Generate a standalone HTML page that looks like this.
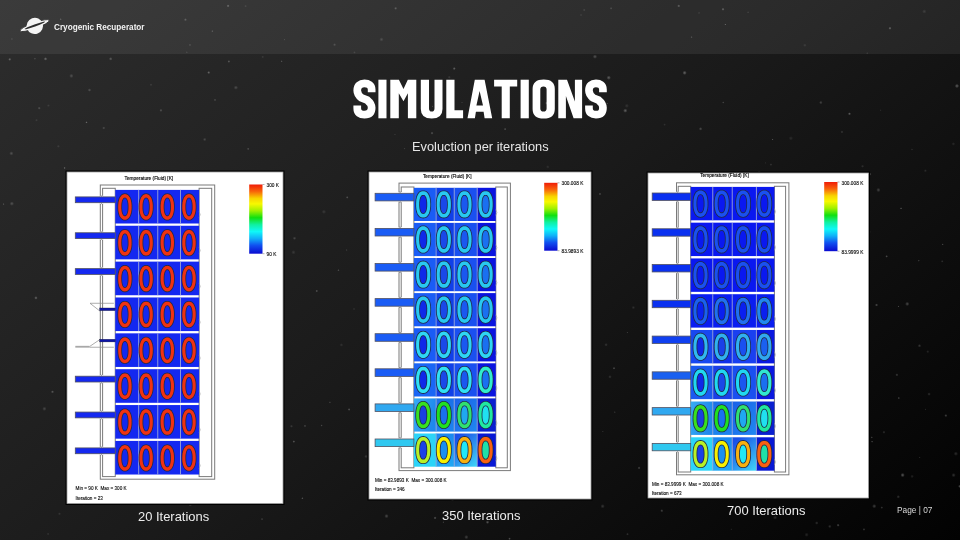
<!DOCTYPE html>
<html><head><meta charset="utf-8"><style>
html,body{margin:0;padding:0;}
body{width:960px;height:540px;overflow:hidden;position:relative;font-family:"Liberation Sans", sans-serif;
background:linear-gradient(141deg,#2d2d2d 0%,#1a1a1a 50%,#020202 100%);}
.hdr{position:absolute;left:0;top:0;width:960px;height:54px;background:rgba(255,255,255,0.07);}
.t{position:absolute;white-space:pre;line-height:1;color:#ececec;will-change:transform;}
</style></head><body>
<svg width="960" height="540" style="position:absolute;left:0;top:0"><defs><radialGradient id="st"><stop offset="0" stop-color="#fff" stop-opacity="1"/><stop offset="0.45" stop-color="#fff" stop-opacity="0.55"/><stop offset="1" stop-color="#fff" stop-opacity="0"/></radialGradient></defs><circle cx="434.28" cy="302.28" r="1.6" fill="url(#st)" opacity="0.21"/><circle cx="820.84" cy="102.55" r="1.8" fill="url(#st)" opacity="0.21"/><circle cx="589.4" cy="100.53" r="1.6" fill="url(#st)" opacity="0.17"/><circle cx="87.04" cy="437.21" r="2.2" fill="url(#st)" opacity="0.25"/><circle cx="571.62" cy="213.93" r="1.6" fill="url(#st)" opacity="0.26"/><circle cx="590.94" cy="85.05" r="1.0" fill="url(#st)" opacity="0.30"/><circle cx="60.64" cy="19.25" r="1.2" fill="url(#st)" opacity="0.24"/><circle cx="746.98" cy="176.2" r="1.8" fill="url(#st)" opacity="0.30"/><circle cx="498.36" cy="345.76" r="1.6" fill="url(#st)" opacity="0.10"/><circle cx="81.59" cy="353.59" r="1.6" fill="url(#st)" opacity="0.34"/><circle cx="955.86" cy="453.72" r="2.2" fill="url(#st)" opacity="0.16"/><circle cx="727.67" cy="276.96" r="1.0" fill="url(#st)" opacity="0.12"/><circle cx="735.64" cy="216.22" r="1.4" fill="url(#st)" opacity="0.19"/><circle cx="919.72" cy="457.55" r="1.0" fill="url(#st)" opacity="0.15"/><circle cx="889.96" cy="28.25" r="1.6" fill="url(#st)" opacity="0.34"/><circle cx="381.53" cy="39.44" r="2.2" fill="url(#st)" opacity="0.15"/><circle cx="647.91" cy="181.92" r="1.4" fill="url(#st)" opacity="0.18"/><circle cx="925.51" cy="409.34" r="1.0" fill="url(#st)" opacity="0.13"/><circle cx="678.74" cy="5.92" r="1.6" fill="url(#st)" opacity="0.29"/><circle cx="170.57" cy="302.02" r="1.6" fill="url(#st)" opacity="0.22"/><circle cx="945.87" cy="415.54" r="1.6" fill="url(#st)" opacity="0.25"/><circle cx="111.85" cy="227.21" r="1.2" fill="url(#st)" opacity="0.10"/><circle cx="829.76" cy="526.42" r="1.8" fill="url(#st)" opacity="0.17"/><circle cx="849.47" cy="113.78" r="1.6" fill="url(#st)" opacity="0.34"/><circle cx="577.94" cy="311.56" r="1.0" fill="url(#st)" opacity="0.34"/><circle cx="204.71" cy="139.47" r="1.8" fill="url(#st)" opacity="0.18"/><circle cx="284.47" cy="39.64" r="1.0" fill="url(#st)" opacity="0.15"/><circle cx="611.12" cy="8.37" r="1.4" fill="url(#st)" opacity="0.19"/><circle cx="435.08" cy="517.93" r="1.6" fill="url(#st)" opacity="0.30"/><circle cx="130.31" cy="208.49" r="2.2" fill="url(#st)" opacity="0.14"/><circle cx="872.09" cy="441.61" r="1.2" fill="url(#st)" opacity="0.27"/><circle cx="152.14" cy="339.65" r="1.8" fill="url(#st)" opacity="0.15"/><circle cx="912.13" cy="476.38" r="1.8" fill="url(#st)" opacity="0.12"/><circle cx="45.51" cy="58.89" r="1.8" fill="url(#st)" opacity="0.33"/><circle cx="228.87" cy="380.47" r="1.4" fill="url(#st)" opacity="0.20"/><circle cx="868.63" cy="265.14" r="1.8" fill="url(#st)" opacity="0.14"/><circle cx="691.54" cy="37.14" r="1.2" fill="url(#st)" opacity="0.22"/><circle cx="627.37" cy="332.57" r="1.0" fill="url(#st)" opacity="0.17"/><circle cx="880.67" cy="110.15" r="1.0" fill="url(#st)" opacity="0.12"/><circle cx="394.97" cy="134.49" r="1.0" fill="url(#st)" opacity="0.14"/><circle cx="354.03" cy="308.97" r="1.2" fill="url(#st)" opacity="0.12"/><circle cx="132.87" cy="243.19" r="1.4" fill="url(#st)" opacity="0.26"/><circle cx="663.57" cy="315.6" r="1.2" fill="url(#st)" opacity="0.24"/><circle cx="886.64" cy="256.39" r="1.4" fill="url(#st)" opacity="0.27"/><circle cx="924.26" cy="11.48" r="2.2" fill="url(#st)" opacity="0.12"/><circle cx="64.58" cy="167.97" r="1.2" fill="url(#st)" opacity="0.34"/><circle cx="72.25" cy="294.89" r="2.2" fill="url(#st)" opacity="0.11"/><circle cx="898.8" cy="398.06" r="1.2" fill="url(#st)" opacity="0.29"/><circle cx="878.4" cy="189.99" r="2.2" fill="url(#st)" opacity="0.21"/><circle cx="74.56" cy="462.94" r="1.0" fill="url(#st)" opacity="0.31"/><circle cx="549.9" cy="337.48" r="1.6" fill="url(#st)" opacity="0.19"/><circle cx="11.95" cy="39.01" r="1.0" fill="url(#st)" opacity="0.25"/><circle cx="953.59" cy="475.09" r="2.2" fill="url(#st)" opacity="0.18"/><circle cx="896.88" cy="374.84" r="1.6" fill="url(#st)" opacity="0.21"/><circle cx="804.84" cy="45.24" r="1.8" fill="url(#st)" opacity="0.11"/><circle cx="577.23" cy="259.72" r="1.2" fill="url(#st)" opacity="0.33"/><circle cx="108.37" cy="421.17" r="2.2" fill="url(#st)" opacity="0.32"/><circle cx="245.6" cy="6.11" r="1.4" fill="url(#st)" opacity="0.13"/><circle cx="587.29" cy="279.93" r="1.4" fill="url(#st)" opacity="0.26"/><circle cx="424.26" cy="481.53" r="1.4" fill="url(#st)" opacity="0.20"/><circle cx="240.58" cy="342.45" r="1.2" fill="url(#st)" opacity="0.31"/><circle cx="369.04" cy="314.88" r="1.4" fill="url(#st)" opacity="0.15"/><circle cx="129.17" cy="189.4" r="1.0" fill="url(#st)" opacity="0.27"/><circle cx="912" cy="149.47" r="1.2" fill="url(#st)" opacity="0.13"/><circle cx="452.5" cy="499.9" r="1.6" fill="url(#st)" opacity="0.19"/><circle cx="499.18" cy="362.96" r="2.2" fill="url(#st)" opacity="0.30"/><circle cx="942.76" cy="244.34" r="1.0" fill="url(#st)" opacity="0.30"/><circle cx="267" cy="328.08" r="2.2" fill="url(#st)" opacity="0.27"/><circle cx="547.76" cy="166.88" r="1.8" fill="url(#st)" opacity="0.10"/><circle cx="130.45" cy="245.61" r="1.0" fill="url(#st)" opacity="0.28"/><circle cx="255.76" cy="420.8" r="1.0" fill="url(#st)" opacity="0.34"/><circle cx="110.69" cy="58.87" r="1.8" fill="url(#st)" opacity="0.26"/><circle cx="775.09" cy="517.57" r="2.2" fill="url(#st)" opacity="0.15"/><circle cx="790.88" cy="138.26" r="2.2" fill="url(#st)" opacity="0.10"/><circle cx="453.31" cy="385.65" r="1.2" fill="url(#st)" opacity="0.15"/><circle cx="747.44" cy="291.43" r="1.8" fill="url(#st)" opacity="0.22"/><circle cx="956.94" cy="85.96" r="2.2" fill="url(#st)" opacity="0.32"/><circle cx="83.72" cy="503.61" r="2.2" fill="url(#st)" opacity="0.19"/><circle cx="432.48" cy="106.31" r="1.0" fill="url(#st)" opacity="0.19"/><circle cx="546.06" cy="474.83" r="1.4" fill="url(#st)" opacity="0.21"/><circle cx="625.27" cy="110.64" r="2.2" fill="url(#st)" opacity="0.31"/><circle cx="766.37" cy="499.08" r="1.0" fill="url(#st)" opacity="0.15"/><circle cx="863.98" cy="529.47" r="1.4" fill="url(#st)" opacity="0.23"/><circle cx="759.16" cy="173.01" r="2.2" fill="url(#st)" opacity="0.31"/><circle cx="334.57" cy="44.7" r="1.6" fill="url(#st)" opacity="0.18"/><circle cx="404.56" cy="148.64" r="1.0" fill="url(#st)" opacity="0.15"/><circle cx="832.85" cy="231.62" r="1.0" fill="url(#st)" opacity="0.14"/><circle cx="321.6" cy="425.47" r="1.2" fill="url(#st)" opacity="0.21"/><circle cx="959.83" cy="486.31" r="1.8" fill="url(#st)" opacity="0.30"/><circle cx="661.8" cy="510.7" r="1.6" fill="url(#st)" opacity="0.24"/><circle cx="661.5" cy="409.23" r="1.6" fill="url(#st)" opacity="0.23"/><circle cx="278.56" cy="393.58" r="2.2" fill="url(#st)" opacity="0.14"/><circle cx="493.65" cy="489.89" r="1.4" fill="url(#st)" opacity="0.17"/><circle cx="365.97" cy="456.44" r="1.8" fill="url(#st)" opacity="0.15"/><circle cx="816.74" cy="522.96" r="1.8" fill="url(#st)" opacity="0.17"/><circle cx="477.74" cy="221.99" r="1.0" fill="url(#st)" opacity="0.22"/><circle cx="581.02" cy="14.99" r="1.0" fill="url(#st)" opacity="0.22"/><circle cx="384.56" cy="432.58" r="1.8" fill="url(#st)" opacity="0.13"/><circle cx="89.49" cy="90.06" r="1.8" fill="url(#st)" opacity="0.21"/><circle cx="883.95" cy="432.21" r="1.6" fill="url(#st)" opacity="0.16"/><circle cx="454.24" cy="68.56" r="1.6" fill="url(#st)" opacity="0.32"/><circle cx="898.26" cy="496.81" r="1.8" fill="url(#st)" opacity="0.18"/><circle cx="183.79" cy="333.66" r="1.4" fill="url(#st)" opacity="0.13"/><circle cx="748.12" cy="12.3" r="1.2" fill="url(#st)" opacity="0.14"/><circle cx="11.36" cy="153.4" r="2.2" fill="url(#st)" opacity="0.19"/><circle cx="594.98" cy="56.64" r="2.2" fill="url(#st)" opacity="0.24"/><circle cx="817.84" cy="336.7" r="2.2" fill="url(#st)" opacity="0.15"/><circle cx="509.14" cy="235.86" r="1.6" fill="url(#st)" opacity="0.25"/><circle cx="792.17" cy="332.53" r="1.8" fill="url(#st)" opacity="0.15"/><circle cx="606.06" cy="344.77" r="1.8" fill="url(#st)" opacity="0.15"/><circle cx="521.22" cy="316.79" r="1.2" fill="url(#st)" opacity="0.16"/><circle cx="711.14" cy="437.67" r="1.2" fill="url(#st)" opacity="0.18"/><circle cx="302.39" cy="498.29" r="1.2" fill="url(#st)" opacity="0.29"/><circle cx="186.76" cy="52.31" r="1.2" fill="url(#st)" opacity="0.13"/><circle cx="84.62" cy="209.47" r="1.6" fill="url(#st)" opacity="0.30"/><circle cx="404.77" cy="426.57" r="1.2" fill="url(#st)" opacity="0.15"/><circle cx="602.87" cy="431.38" r="1.0" fill="url(#st)" opacity="0.15"/><circle cx="655.09" cy="492.14" r="1.4" fill="url(#st)" opacity="0.13"/><circle cx="485.45" cy="409.4" r="1.8" fill="url(#st)" opacity="0.34"/><circle cx="799.63" cy="433.54" r="1.6" fill="url(#st)" opacity="0.13"/><circle cx="35.94" cy="297.9" r="1.8" fill="url(#st)" opacity="0.32"/><circle cx="462.03" cy="102.37" r="1.0" fill="url(#st)" opacity="0.15"/><circle cx="806.61" cy="534.76" r="2.2" fill="url(#st)" opacity="0.12"/><circle cx="59.47" cy="513.81" r="1.6" fill="url(#st)" opacity="0.12"/><circle cx="92.85" cy="211.08" r="1.6" fill="url(#st)" opacity="0.22"/><circle cx="412.88" cy="324.5" r="1.0" fill="url(#st)" opacity="0.25"/><circle cx="39.24" cy="108.15" r="1.6" fill="url(#st)" opacity="0.21"/><circle cx="709.76" cy="218.86" r="1.2" fill="url(#st)" opacity="0.25"/><circle cx="91.01" cy="427.87" r="1.4" fill="url(#st)" opacity="0.31"/><circle cx="769.64" cy="380.52" r="2.2" fill="url(#st)" opacity="0.33"/><circle cx="546.9" cy="103.11" r="1.8" fill="url(#st)" opacity="0.34"/><circle cx="772.63" cy="139.46" r="1.0" fill="url(#st)" opacity="0.28"/><circle cx="746.87" cy="439.91" r="1.6" fill="url(#st)" opacity="0.13"/><circle cx="316.71" cy="290.99" r="1.4" fill="url(#st)" opacity="0.28"/><circle cx="734.62" cy="219.1" r="2.2" fill="url(#st)" opacity="0.14"/><circle cx="765.44" cy="162.91" r="1.0" fill="url(#st)" opacity="0.10"/><circle cx="341.41" cy="344.9" r="1.8" fill="url(#st)" opacity="0.11"/><circle cx="262.06" cy="519.17" r="1.4" fill="url(#st)" opacity="0.18"/><circle cx="633.37" cy="307.57" r="1.8" fill="url(#st)" opacity="0.12"/><circle cx="494.11" cy="268.7" r="1.2" fill="url(#st)" opacity="0.27"/><circle cx="731.27" cy="529.25" r="1.0" fill="url(#st)" opacity="0.13"/><circle cx="103.74" cy="128" r="1.6" fill="url(#st)" opacity="0.20"/><circle cx="48.44" cy="105.54" r="1.6" fill="url(#st)" opacity="0.10"/><circle cx="248.22" cy="148.87" r="1.4" fill="url(#st)" opacity="0.23"/><circle cx="487.51" cy="522.25" r="1.8" fill="url(#st)" opacity="0.30"/><circle cx="95.65" cy="239.95" r="2.2" fill="url(#st)" opacity="0.12"/><circle cx="573.64" cy="409.99" r="1.0" fill="url(#st)" opacity="0.19"/><circle cx="901.06" cy="208.39" r="1.2" fill="url(#st)" opacity="0.31"/><circle cx="520.28" cy="322.14" r="1.6" fill="url(#st)" opacity="0.33"/><circle cx="403.88" cy="284.45" r="1.8" fill="url(#st)" opacity="0.17"/><circle cx="509.19" cy="260.95" r="1.4" fill="url(#st)" opacity="0.23"/><circle cx="272.19" cy="386.96" r="1.4" fill="url(#st)" opacity="0.11"/><circle cx="741.59" cy="316.34" r="2.2" fill="url(#st)" opacity="0.14"/><circle cx="724.46" cy="210.58" r="1.4" fill="url(#st)" opacity="0.28"/><circle cx="48.15" cy="533.94" r="1.4" fill="url(#st)" opacity="0.12"/><circle cx="869.33" cy="231.94" r="1.6" fill="url(#st)" opacity="0.16"/><circle cx="725.28" cy="24.53" r="1.0" fill="url(#st)" opacity="0.32"/><circle cx="693.83" cy="252.91" r="1.2" fill="url(#st)" opacity="0.24"/><circle cx="110.49" cy="337.09" r="1.6" fill="url(#st)" opacity="0.13"/><circle cx="826.68" cy="192.62" r="1.2" fill="url(#st)" opacity="0.13"/><circle cx="425.15" cy="360.66" r="1.6" fill="url(#st)" opacity="0.24"/><circle cx="614.01" cy="368.28" r="1.4" fill="url(#st)" opacity="0.29"/><circle cx="509.54" cy="538.72" r="1.4" fill="url(#st)" opacity="0.28"/><circle cx="228.87" cy="61.49" r="1.4" fill="url(#st)" opacity="0.29"/><circle cx="599.98" cy="193.96" r="1.4" fill="url(#st)" opacity="0.25"/><circle cx="696.07" cy="377.48" r="1.2" fill="url(#st)" opacity="0.25"/><circle cx="723.22" cy="102.5" r="1.2" fill="url(#st)" opacity="0.22"/><circle cx="626.82" cy="105.83" r="2.2" fill="url(#st)" opacity="0.11"/><circle cx="58.36" cy="146.31" r="1.6" fill="url(#st)" opacity="0.11"/><circle cx="36.52" cy="120.18" r="1.4" fill="url(#st)" opacity="0.12"/><circle cx="82.98" cy="365.19" r="1.8" fill="url(#st)" opacity="0.16"/><circle cx="942.23" cy="261.37" r="1.4" fill="url(#st)" opacity="0.15"/><circle cx="329.95" cy="402.21" r="1.0" fill="url(#st)" opacity="0.29"/><circle cx="429.42" cy="443.9" r="1.2" fill="url(#st)" opacity="0.21"/><circle cx="717.43" cy="210.67" r="1.2" fill="url(#st)" opacity="0.19"/><circle cx="627.51" cy="534.16" r="1.4" fill="url(#st)" opacity="0.17"/><circle cx="728.63" cy="446.12" r="1.2" fill="url(#st)" opacity="0.20"/><circle cx="354.49" cy="52.39" r="1.4" fill="url(#st)" opacity="0.12"/><circle cx="79.7" cy="304.68" r="1.6" fill="url(#st)" opacity="0.30"/><circle cx="444.97" cy="444.69" r="1.0" fill="url(#st)" opacity="0.12"/><circle cx="204.73" cy="357.53" r="1.0" fill="url(#st)" opacity="0.27"/><circle cx="474.97" cy="412.64" r="1.4" fill="url(#st)" opacity="0.17"/><circle cx="137.2" cy="193.21" r="2.2" fill="url(#st)" opacity="0.18"/><circle cx="870.03" cy="174.12" r="1.6" fill="url(#st)" opacity="0.24"/><circle cx="881.81" cy="507.57" r="1.4" fill="url(#st)" opacity="0.21"/><circle cx="770.93" cy="164.57" r="1.4" fill="url(#st)" opacity="0.15"/><circle cx="929.06" cy="394.09" r="1.8" fill="url(#st)" opacity="0.16"/><circle cx="347.23" cy="197.4" r="1.4" fill="url(#st)" opacity="0.26"/><circle cx="561.42" cy="429.91" r="2.2" fill="url(#st)" opacity="0.24"/><circle cx="765.2" cy="291.9" r="1.8" fill="url(#st)" opacity="0.24"/><circle cx="169.53" cy="409.83" r="1.4" fill="url(#st)" opacity="0.29"/><circle cx="212.39" cy="31.17" r="1.2" fill="url(#st)" opacity="0.24"/><circle cx="927.76" cy="351.65" r="1.6" fill="url(#st)" opacity="0.12"/><circle cx="524.94" cy="425.55" r="1.0" fill="url(#st)" opacity="0.18"/><circle cx="262.7" cy="56.92" r="1.4" fill="url(#st)" opacity="0.12"/><circle cx="608.76" cy="77.69" r="2.2" fill="url(#st)" opacity="0.30"/><circle cx="405.17" cy="384.59" r="1.6" fill="url(#st)" opacity="0.28"/><circle cx="500.69" cy="412.94" r="1.6" fill="url(#st)" opacity="0.18"/><circle cx="774.98" cy="179.8" r="1.2" fill="url(#st)" opacity="0.22"/><circle cx="515.85" cy="389.3" r="2.2" fill="url(#st)" opacity="0.25"/><circle cx="44.39" cy="408.81" r="2.2" fill="url(#st)" opacity="0.18"/><circle cx="3.71" cy="204.11" r="1.0" fill="url(#st)" opacity="0.31"/><circle cx="919.48" cy="345.75" r="1.8" fill="url(#st)" opacity="0.19"/><circle cx="9.74" cy="59.36" r="1.6" fill="url(#st)" opacity="0.32"/><circle cx="235.89" cy="87.62" r="2.2" fill="url(#st)" opacity="0.19"/><circle cx="160.95" cy="110.36" r="1.6" fill="url(#st)" opacity="0.23"/><circle cx="263.08" cy="478.49" r="1.6" fill="url(#st)" opacity="0.17"/><circle cx="110.22" cy="349.91" r="1.2" fill="url(#st)" opacity="0.32"/><circle cx="723.01" cy="9.27" r="1.6" fill="url(#st)" opacity="0.32"/><circle cx="34.92" cy="58.68" r="1.2" fill="url(#st)" opacity="0.19"/><circle cx="564.82" cy="324.01" r="1.6" fill="url(#st)" opacity="0.24"/><circle cx="215" cy="99.89" r="1.4" fill="url(#st)" opacity="0.20"/><circle cx="874.25" cy="506.17" r="2.2" fill="url(#st)" opacity="0.23"/><circle cx="784.44" cy="258.93" r="1.4" fill="url(#st)" opacity="0.22"/><circle cx="386.51" cy="516.08" r="2.2" fill="url(#st)" opacity="0.23"/><circle cx="918.74" cy="260.61" r="1.2" fill="url(#st)" opacity="0.20"/><circle cx="208.72" cy="72.52" r="1.6" fill="url(#st)" opacity="0.33"/><circle cx="762.92" cy="418.05" r="1.0" fill="url(#st)" opacity="0.26"/><circle cx="228.11" cy="5.87" r="1.6" fill="url(#st)" opacity="0.32"/><circle cx="432.02" cy="133.14" r="1.6" fill="url(#st)" opacity="0.25"/><circle cx="151" cy="84.73" r="1.4" fill="url(#st)" opacity="0.13"/><circle cx="871.78" cy="437.4" r="1.2" fill="url(#st)" opacity="0.25"/><circle cx="953.39" cy="143.91" r="1.8" fill="url(#st)" opacity="0.11"/><circle cx="549" cy="96.28" r="1.2" fill="url(#st)" opacity="0.30"/><circle cx="812.34" cy="443.93" r="1.0" fill="url(#st)" opacity="0.18"/><circle cx="590.27" cy="285.09" r="1.6" fill="url(#st)" opacity="0.27"/><circle cx="79.54" cy="404.24" r="1.8" fill="url(#st)" opacity="0.31"/><circle cx="291.45" cy="426.23" r="1.6" fill="url(#st)" opacity="0.15"/><circle cx="654.94" cy="421.97" r="1.6" fill="url(#st)" opacity="0.15"/><circle cx="521.64" cy="283.86" r="1.2" fill="url(#st)" opacity="0.33"/><circle cx="925.38" cy="170.69" r="1.6" fill="url(#st)" opacity="0.12"/><circle cx="293.47" cy="252.3" r="2.2" fill="url(#st)" opacity="0.12"/><circle cx="71.37" cy="75.9" r="2.2" fill="url(#st)" opacity="0.19"/><circle cx="443.29" cy="522.13" r="1.0" fill="url(#st)" opacity="0.26"/><circle cx="11.85" cy="203.65" r="2.2" fill="url(#st)" opacity="0.21"/><circle cx="281.73" cy="61.2" r="1.0" fill="url(#st)" opacity="0.31"/><circle cx="810.73" cy="388.38" r="1.8" fill="url(#st)" opacity="0.14"/><circle cx="602.66" cy="506.22" r="2.2" fill="url(#st)" opacity="0.17"/><circle cx="323.89" cy="211.79" r="2.2" fill="url(#st)" opacity="0.12"/><circle cx="181.11" cy="203.34" r="1.0" fill="url(#st)" opacity="0.18"/><circle cx="907.24" cy="303.92" r="2.2" fill="url(#st)" opacity="0.25"/><circle cx="428.98" cy="206.52" r="1.0" fill="url(#st)" opacity="0.13"/><circle cx="90.62" cy="365.96" r="2.2" fill="url(#st)" opacity="0.14"/><circle cx="185.44" cy="19.7" r="1.6" fill="url(#st)" opacity="0.24"/><circle cx="86.5" cy="122.35" r="1.2" fill="url(#st)" opacity="0.34"/><circle cx="416.46" cy="416.45" r="1.4" fill="url(#st)" opacity="0.32"/><circle cx="409.93" cy="276.25" r="2.2" fill="url(#st)" opacity="0.15"/><circle cx="142.05" cy="373.31" r="1.6" fill="url(#st)" opacity="0.18"/><circle cx="395.65" cy="8.33" r="1.6" fill="url(#st)" opacity="0.25"/><circle cx="304.99" cy="425.93" r="1.2" fill="url(#st)" opacity="0.26"/><circle cx="584.26" cy="10.01" r="1.4" fill="url(#st)" opacity="0.15"/><circle cx="294.51" cy="238.27" r="1.8" fill="url(#st)" opacity="0.19"/><circle cx="488.99" cy="425.82" r="1.0" fill="url(#st)" opacity="0.25"/><circle cx="152.01" cy="413.92" r="1.4" fill="url(#st)" opacity="0.23"/><circle cx="338.46" cy="270.22" r="1.2" fill="url(#st)" opacity="0.24"/><circle cx="190.24" cy="504.09" r="2.2" fill="url(#st)" opacity="0.27"/><circle cx="898.47" cy="306.38" r="1.0" fill="url(#st)" opacity="0.25"/><circle cx="189.98" cy="44.95" r="1.2" fill="url(#st)" opacity="0.21"/><circle cx="400.8" cy="180.13" r="1.0" fill="url(#st)" opacity="0.32"/><circle cx="346.75" cy="250.04" r="1.0" fill="url(#st)" opacity="0.21"/><circle cx="700.59" cy="128.86" r="1.8" fill="url(#st)" opacity="0.23"/><circle cx="538.3" cy="302.59" r="1.4" fill="url(#st)" opacity="0.14"/><circle cx="715.89" cy="484.36" r="1.4" fill="url(#st)" opacity="0.24"/><circle cx="117.75" cy="445.31" r="1.4" fill="url(#st)" opacity="0.26"/><circle cx="349.09" cy="409.5" r="1.4" fill="url(#st)" opacity="0.30"/><circle cx="178.15" cy="295.84" r="1.0" fill="url(#st)" opacity="0.21"/><circle cx="387.25" cy="422.67" r="2.2" fill="url(#st)" opacity="0.13"/><circle cx="725.86" cy="457.57" r="1.6" fill="url(#st)" opacity="0.25"/><circle cx="614.71" cy="412.2" r="1.2" fill="url(#st)" opacity="0.15"/><circle cx="449.3" cy="77.21" r="1.6" fill="url(#st)" opacity="0.13"/><circle cx="389.5" cy="181.57" r="1.2" fill="url(#st)" opacity="0.16"/><circle cx="545.31" cy="179.33" r="2.2" fill="url(#st)" opacity="0.29"/><circle cx="692.76" cy="425.25" r="1.6" fill="url(#st)" opacity="0.33"/><circle cx="576.09" cy="253.75" r="1.6" fill="url(#st)" opacity="0.32"/><circle cx="876.53" cy="304.98" r="1.6" fill="url(#st)" opacity="0.28"/><circle cx="466.36" cy="537.09" r="2.2" fill="url(#st)" opacity="0.20"/><circle cx="416.6" cy="305.62" r="1.8" fill="url(#st)" opacity="0.18"/><circle cx="499.85" cy="226.99" r="1.0" fill="url(#st)" opacity="0.18"/><circle cx="52.49" cy="391.81" r="1.6" fill="url(#st)" opacity="0.28"/><circle cx="573.62" cy="406.02" r="1.4" fill="url(#st)" opacity="0.31"/><circle cx="841.97" cy="131.94" r="1.6" fill="url(#st)" opacity="0.16"/><circle cx="838.13" cy="525.18" r="1.6" fill="url(#st)" opacity="0.27"/><circle cx="505.17" cy="129.14" r="1.4" fill="url(#st)" opacity="0.26"/><circle cx="902.63" cy="475.07" r="2.2" fill="url(#st)" opacity="0.33"/><circle cx="639.08" cy="467.91" r="1.6" fill="url(#st)" opacity="0.24"/><circle cx="157.56" cy="350.73" r="1.6" fill="url(#st)" opacity="0.24"/><circle cx="867.28" cy="53.22" r="1.2" fill="url(#st)" opacity="0.13"/><circle cx="516.09" cy="513.53" r="1.0" fill="url(#st)" opacity="0.17"/><circle cx="699.05" cy="12.92" r="1.2" fill="url(#st)" opacity="0.12"/><circle cx="859.32" cy="440.34" r="1.6" fill="url(#st)" opacity="0.13"/><circle cx="664.59" cy="124.63" r="1.4" fill="url(#st)" opacity="0.11"/><circle cx="862.57" cy="166.24" r="1.6" fill="url(#st)" opacity="0.13"/><circle cx="745.6" cy="419.33" r="1.2" fill="url(#st)" opacity="0.15"/><circle cx="824.65" cy="373.96" r="1.0" fill="url(#st)" opacity="0.15"/><circle cx="804.4" cy="191.24" r="1.6" fill="url(#st)" opacity="0.10"/><circle cx="609.96" cy="376.88" r="1.8" fill="url(#st)" opacity="0.15"/><circle cx="607.1" cy="103.41" r="1.0" fill="url(#st)" opacity="0.26"/><circle cx="293.84" cy="441.55" r="1.4" fill="url(#st)" opacity="0.31"/><circle cx="684.62" cy="72.84" r="2.2" fill="url(#st)" opacity="0.33"/><circle cx="747.77" cy="224.19" r="1.2" fill="url(#st)" opacity="0.15"/></svg>
<div class="hdr"></div>
<svg width="60" height="54" style="position:absolute;left:0;top:0"><g transform="translate(34.65 25.6) rotate(-19.9)"><ellipse cx="0" cy="0" rx="15.5" ry="3.0" fill="#f4f4f4" stroke="#383838" stroke-width="0.9"/><circle cx="0.1" cy="0.35" r="8.2" fill="#f4f4f4"/><ellipse cx="0.2" cy="-0.1" rx="10.8" ry="1.05" fill="#2c2c2c"/></g></svg>
<div class="t" style="left:54.2px;top:24.3px;font-size:8.2px;font-weight:bold;color:#f2f2f2;">Cryogenic Recuperator</div>
<svg width="960" height="540" style="position:absolute;left:0;top:0" fill="#fff"><path d="M371.65 92.2 V89.45 C371.65 84.95 368.45 83.45 364.45 83.45 C360.25 83.45 357.25 85.45 357.25 90.45 C357.25 94.45 359.05 95.95 361.55 97.95 L367.35 100.15 C369.85 102.15 371.65 103.65 371.65 107.85 C371.65 113.15 368.45 114.65 364.45 114.65 C360.25 114.65 357.25 112.85 357.25 108.15 V105.4" fill="none" stroke="#fff" stroke-width="7.7"/><rect x="378.4" y="79.7" width="8.1" height="38.6"/><path d="M390.3 118.3 V79.7 H398.9 L403.5 88.9 L407.8 79.7 H416.3 V118.3 H407.9 V93.2 L403.5 101.2 L398.8 93.2 V118.3 Z"/><path d="M420.8 79.7 H429 V108.5 Q429 111.6 431.7 111.6 Q434.5 111.6 434.5 108.5 V79.7 H442.5 V109 Q442.5 118.6 431.7 118.6 Q420.8 118.6 420.8 109 Z"/><path d="M446.3 79.7 H454.5 V110.2 H463.1 V118.3 H446.3 Z"/><path fill-rule="evenodd" d="M467.5 118.3 L474.8 79.7 H484.6 L492.2 118.3 H484.6 L483.6 111.8 H475.9 L474.9 118.3 Z M479.6 91 L483 105.4 H476.4 Z"/><path d="M494.1 79.7 H517.2 V86.5 H509.8 V118.3 H501.7 V86.5 H494.1 Z"/><rect x="520.6" y="79.7" width="8.2" height="38.6"/><path fill-rule="evenodd" d="M532.6 89 Q532.6 79.4 543.7 79.4 Q554.8 79.4 554.8 89 V109 Q554.8 118.6 543.7 118.6 Q532.6 118.6 532.6 109 Z M540.3 89.5 Q540.3 86.4 543.45 86.4 Q546.6 86.4 546.6 89.5 V108.4 Q546.6 111.5 543.45 111.5 Q540.3 111.5 540.3 108.4 Z"/><path d="M558.3 118.3 V79.7 H567 L574.9 101.6 V79.7 H582.1 V118.3 H573.6 L565.9 96 V118.3 Z"/><path d="M602.95 92.2 V89.45 C602.95 84.95 599.95 83.45 595.95 83.45 C591.75 83.45 588.95 85.45 588.95 90.45 C588.95 94.45 590.75 95.95 593.25 97.95 L598.65 100.15 C601.15 102.15 602.95 103.65 602.95 107.85 C602.95 113.15 599.95 114.65 595.95 114.65 C591.75 114.65 588.95 112.85 588.95 108.15 V105.4" fill="none" stroke="#fff" stroke-width="7.7"/></svg>
<div class="t" style="left:412.4px;top:141.3px;font-size:12.8px;color:#e6e6e6;">Evoluction per iterations</div>
<svg width="960" height="540" style="position:absolute;left:0;top:0;font-family:'Liberation Sans', sans-serif;will-change:transform">
<defs><path id="e1a" d="M7.50 0.00 L7.46 1.86 L7.33 3.47 L7.12 4.97 L6.82 6.37 L6.45 7.66 L6.00 8.85 L5.47 9.92 L4.88 10.87 L4.23 11.69 L3.51 12.37 L2.74 12.90 L1.91 13.29 L1.02 13.52 L0.00 13.60 L-1.02 13.52 L-1.91 13.29 L-2.74 12.90 L-3.51 12.37 L-4.23 11.69 L-4.88 10.87 L-5.47 9.92 L-6.00 8.85 L-6.45 7.66 L-6.82 6.37 L-7.12 4.97 L-7.33 3.47 L-7.46 1.86 L-7.50 0.00 L-7.46 -1.86 L-7.33 -3.47 L-7.12 -4.97 L-6.82 -6.37 L-6.45 -7.66 L-6.00 -8.85 L-5.47 -9.92 L-4.88 -10.87 L-4.23 -11.69 L-3.51 -12.37 L-2.74 -12.90 L-1.91 -13.29 L-1.02 -13.52 L-0.00 -13.60 L1.02 -13.52 L1.91 -13.29 L2.74 -12.90 L3.51 -12.37 L4.23 -11.69 L4.88 -10.87 L5.47 -9.92 L6.00 -8.85 L6.45 -7.66 L6.82 -6.37 L7.12 -4.97 L7.33 -3.47 L7.46 -1.86 Z"/><path id="e1b" d="M6.70 0.00 L6.66 1.75 L6.55 3.27 L6.36 4.68 L6.09 5.99 L5.76 7.21 L5.36 8.33 L4.89 9.34 L4.36 10.23 L3.78 11.00 L3.14 11.64 L2.45 12.15 L1.71 12.51 L0.92 12.73 L0.00 12.80 L-0.92 12.73 L-1.71 12.51 L-2.45 12.15 L-3.14 11.64 L-3.78 11.00 L-4.36 10.23 L-4.89 9.34 L-5.36 8.33 L-5.76 7.21 L-6.09 5.99 L-6.36 4.68 L-6.55 3.27 L-6.66 1.75 L-6.70 0.00 L-6.66 -1.75 L-6.55 -3.27 L-6.36 -4.68 L-6.09 -5.99 L-5.76 -7.21 L-5.36 -8.33 L-4.89 -9.34 L-4.36 -10.23 L-3.78 -11.00 L-3.14 -11.64 L-2.45 -12.15 L-1.71 -12.51 L-0.92 -12.73 L-0.00 -12.80 L0.92 -12.73 L1.71 -12.51 L2.45 -12.15 L3.14 -11.64 L3.78 -11.00 L4.36 -10.23 L4.89 -9.34 L5.36 -8.33 L5.76 -7.21 L6.09 -5.99 L6.36 -4.68 L6.55 -3.27 L6.66 -1.75 Z"/><path id="e1c" d="M3.60 0.00 L3.58 1.27 L3.52 2.37 L3.42 3.40 L3.27 4.35 L3.09 5.24 L2.88 6.05 L2.63 6.79 L2.34 7.44 L2.03 7.99 L1.69 8.46 L1.31 8.82 L0.92 9.09 L0.49 9.25 L0.00 9.30 L-0.49 9.25 L-0.92 9.09 L-1.31 8.82 L-1.69 8.46 L-2.03 7.99 L-2.34 7.44 L-2.63 6.79 L-2.88 6.05 L-3.09 5.24 L-3.27 4.35 L-3.42 3.40 L-3.52 2.37 L-3.58 1.27 L-3.60 0.00 L-3.58 -1.27 L-3.52 -2.37 L-3.42 -3.40 L-3.27 -4.35 L-3.09 -5.24 L-2.88 -6.05 L-2.63 -6.79 L-2.34 -7.44 L-2.03 -7.99 L-1.69 -8.46 L-1.31 -8.82 L-0.92 -9.09 L-0.49 -9.25 L-0.00 -9.30 L0.49 -9.25 L0.92 -9.09 L1.31 -8.82 L1.69 -8.46 L2.03 -7.99 L2.34 -7.44 L2.63 -6.79 L2.88 -6.05 L3.09 -5.24 L3.27 -4.35 L3.42 -3.40 L3.52 -2.37 L3.58 -1.27 Z"/><path id="e1d" d="M2.80 0.00 L2.78 1.16 L2.74 2.17 L2.66 3.10 L2.55 3.98 L2.41 4.79 L2.24 5.53 L2.04 6.20 L1.82 6.80 L1.58 7.31 L1.31 7.73 L1.02 8.07 L0.71 8.31 L0.38 8.45 L0.00 8.50 L-0.38 8.45 L-0.71 8.31 L-1.02 8.07 L-1.31 7.73 L-1.58 7.31 L-1.82 6.80 L-2.04 6.20 L-2.24 5.53 L-2.41 4.79 L-2.55 3.98 L-2.66 3.10 L-2.74 2.17 L-2.78 1.16 L-2.80 0.00 L-2.78 -1.16 L-2.74 -2.17 L-2.66 -3.10 L-2.55 -3.98 L-2.41 -4.79 L-2.24 -5.53 L-2.04 -6.20 L-1.82 -6.80 L-1.58 -7.31 L-1.31 -7.73 L-1.02 -8.07 L-0.71 -8.31 L-0.38 -8.45 L-0.00 -8.50 L0.38 -8.45 L0.71 -8.31 L1.02 -8.07 L1.31 -7.73 L1.58 -7.31 L1.82 -6.80 L2.04 -6.20 L2.24 -5.53 L2.41 -4.79 L2.55 -3.98 L2.66 -3.10 L2.74 -2.17 L2.78 -1.16 Z"/></defs>
<rect x="65.5" y="170.5" width="219" height="334.5" fill="#000"/>
<rect x="67" y="172" width="216" height="331.5" fill="#fff" stroke="#a0a0a0" stroke-width="0.8"/>
<text x="124.6" y="179.6" font-size="4.75" fill="#000" stroke="#000" stroke-width="0.12">Temperature (Fluid) [K]</text>
<rect x="100.3" y="185" width="114.4" height="294.2" fill="#fff" stroke="#7a7a7a" stroke-width="1"/>
<rect x="102.6" y="188.3" width="12.65" height="288.3" fill="#fff" stroke="#7a7a7a" stroke-width="1"/>
<rect x="199.1" y="188.3" width="12.6" height="288.3" fill="#fff" stroke="#7a7a7a" stroke-width="1"/>
<rect x="115.25" y="189.9" width="23.45" height="33.6" fill="#1428f0"/>
<rect x="138.7" y="189.9" width="19.1" height="33.6" fill="#1428f0"/>
<rect x="157.8" y="189.9" width="22.7" height="33.6" fill="#1428f0"/>
<rect x="180.5" y="189.9" width="18.6" height="33.6" fill="#1428f0"/>
<line x1="138.7" y1="189.9" x2="138.7" y2="223.5" stroke="#9aa4d0" stroke-width="0.8"/>
<line x1="157.8" y1="189.9" x2="157.8" y2="223.5" stroke="#9aa4d0" stroke-width="0.8"/>
<line x1="180.5" y1="189.9" x2="180.5" y2="223.5" stroke="#9aa4d0" stroke-width="0.8"/>
<use href="#e1a" x="124.9" y="206.9" fill="#202a48"/>
<use href="#e1b" x="124.9" y="206.9" fill="#f03212"/>
<use href="#e1c" x="124.9" y="206.9" fill="#202a48"/>
<use href="#e1d" x="124.9" y="206.9" fill="#1428f0"/>
<use href="#e1a" x="146.1" y="206.9" fill="#202a48"/>
<use href="#e1b" x="146.1" y="206.9" fill="#f03212"/>
<use href="#e1c" x="146.1" y="206.9" fill="#202a48"/>
<use href="#e1d" x="146.1" y="206.9" fill="#1428f0"/>
<use href="#e1a" x="167.3" y="206.9" fill="#202a48"/>
<use href="#e1b" x="167.3" y="206.9" fill="#f03212"/>
<use href="#e1c" x="167.3" y="206.9" fill="#202a48"/>
<use href="#e1d" x="167.3" y="206.9" fill="#1428f0"/>
<use href="#e1a" x="189" y="206.9" fill="#202a48"/>
<use href="#e1b" x="189" y="206.9" fill="#f03212"/>
<use href="#e1c" x="189" y="206.9" fill="#202a48"/>
<use href="#e1d" x="189" y="206.9" fill="#1428f0"/>
<path d="M199.1 211.6 q2.2 3 0 6" fill="none" stroke="#999" stroke-width="0.6"/>
<rect x="115.25" y="225.76" width="23.45" height="33.6" fill="#1428f0"/>
<rect x="138.7" y="225.76" width="19.1" height="33.6" fill="#1428f0"/>
<rect x="157.8" y="225.76" width="22.7" height="33.6" fill="#1428f0"/>
<rect x="180.5" y="225.76" width="18.6" height="33.6" fill="#1428f0"/>
<line x1="138.7" y1="225.76" x2="138.7" y2="259.36" stroke="#9aa4d0" stroke-width="0.8"/>
<line x1="157.8" y1="225.76" x2="157.8" y2="259.36" stroke="#9aa4d0" stroke-width="0.8"/>
<line x1="180.5" y1="225.76" x2="180.5" y2="259.36" stroke="#9aa4d0" stroke-width="0.8"/>
<use href="#e1a" x="124.9" y="242.76" fill="#202a48"/>
<use href="#e1b" x="124.9" y="242.76" fill="#f03212"/>
<use href="#e1c" x="124.9" y="242.76" fill="#202a48"/>
<use href="#e1d" x="124.9" y="242.76" fill="#1428f0"/>
<use href="#e1a" x="146.1" y="242.76" fill="#202a48"/>
<use href="#e1b" x="146.1" y="242.76" fill="#f03212"/>
<use href="#e1c" x="146.1" y="242.76" fill="#202a48"/>
<use href="#e1d" x="146.1" y="242.76" fill="#1428f0"/>
<use href="#e1a" x="167.3" y="242.76" fill="#202a48"/>
<use href="#e1b" x="167.3" y="242.76" fill="#f03212"/>
<use href="#e1c" x="167.3" y="242.76" fill="#202a48"/>
<use href="#e1d" x="167.3" y="242.76" fill="#1428f0"/>
<use href="#e1a" x="189" y="242.76" fill="#202a48"/>
<use href="#e1b" x="189" y="242.76" fill="#f03212"/>
<use href="#e1c" x="189" y="242.76" fill="#202a48"/>
<use href="#e1d" x="189" y="242.76" fill="#1428f0"/>
<path d="M199.1 247.46 q2.2 3 0 6" fill="none" stroke="#999" stroke-width="0.6"/>
<rect x="115.25" y="261.62" width="23.45" height="33.6" fill="#1428f0"/>
<rect x="138.7" y="261.62" width="19.1" height="33.6" fill="#1428f0"/>
<rect x="157.8" y="261.62" width="22.7" height="33.6" fill="#1428f0"/>
<rect x="180.5" y="261.62" width="18.6" height="33.6" fill="#1428f0"/>
<line x1="138.7" y1="261.62" x2="138.7" y2="295.22" stroke="#9aa4d0" stroke-width="0.8"/>
<line x1="157.8" y1="261.62" x2="157.8" y2="295.22" stroke="#9aa4d0" stroke-width="0.8"/>
<line x1="180.5" y1="261.62" x2="180.5" y2="295.22" stroke="#9aa4d0" stroke-width="0.8"/>
<use href="#e1a" x="124.9" y="278.62" fill="#202a48"/>
<use href="#e1b" x="124.9" y="278.62" fill="#f03212"/>
<use href="#e1c" x="124.9" y="278.62" fill="#202a48"/>
<use href="#e1d" x="124.9" y="278.62" fill="#1428f0"/>
<use href="#e1a" x="146.1" y="278.62" fill="#202a48"/>
<use href="#e1b" x="146.1" y="278.62" fill="#f03212"/>
<use href="#e1c" x="146.1" y="278.62" fill="#202a48"/>
<use href="#e1d" x="146.1" y="278.62" fill="#1428f0"/>
<use href="#e1a" x="167.3" y="278.62" fill="#202a48"/>
<use href="#e1b" x="167.3" y="278.62" fill="#f03212"/>
<use href="#e1c" x="167.3" y="278.62" fill="#202a48"/>
<use href="#e1d" x="167.3" y="278.62" fill="#1428f0"/>
<use href="#e1a" x="189" y="278.62" fill="#202a48"/>
<use href="#e1b" x="189" y="278.62" fill="#f03212"/>
<use href="#e1c" x="189" y="278.62" fill="#202a48"/>
<use href="#e1d" x="189" y="278.62" fill="#1428f0"/>
<path d="M199.1 283.32 q2.2 3 0 6" fill="none" stroke="#999" stroke-width="0.6"/>
<rect x="115.25" y="297.48" width="23.45" height="33.6" fill="#1428f0"/>
<rect x="138.7" y="297.48" width="19.1" height="33.6" fill="#1428f0"/>
<rect x="157.8" y="297.48" width="22.7" height="33.6" fill="#1428f0"/>
<rect x="180.5" y="297.48" width="18.6" height="33.6" fill="#1428f0"/>
<line x1="138.7" y1="297.48" x2="138.7" y2="331.08" stroke="#9aa4d0" stroke-width="0.8"/>
<line x1="157.8" y1="297.48" x2="157.8" y2="331.08" stroke="#9aa4d0" stroke-width="0.8"/>
<line x1="180.5" y1="297.48" x2="180.5" y2="331.08" stroke="#9aa4d0" stroke-width="0.8"/>
<use href="#e1a" x="124.9" y="314.48" fill="#202a48"/>
<use href="#e1b" x="124.9" y="314.48" fill="#f03212"/>
<use href="#e1c" x="124.9" y="314.48" fill="#202a48"/>
<use href="#e1d" x="124.9" y="314.48" fill="#1428f0"/>
<use href="#e1a" x="146.1" y="314.48" fill="#202a48"/>
<use href="#e1b" x="146.1" y="314.48" fill="#f03212"/>
<use href="#e1c" x="146.1" y="314.48" fill="#202a48"/>
<use href="#e1d" x="146.1" y="314.48" fill="#1428f0"/>
<use href="#e1a" x="167.3" y="314.48" fill="#202a48"/>
<use href="#e1b" x="167.3" y="314.48" fill="#f03212"/>
<use href="#e1c" x="167.3" y="314.48" fill="#202a48"/>
<use href="#e1d" x="167.3" y="314.48" fill="#1428f0"/>
<use href="#e1a" x="189" y="314.48" fill="#202a48"/>
<use href="#e1b" x="189" y="314.48" fill="#f03212"/>
<use href="#e1c" x="189" y="314.48" fill="#202a48"/>
<use href="#e1d" x="189" y="314.48" fill="#1428f0"/>
<path d="M199.1 319.18 q2.2 3 0 6" fill="none" stroke="#999" stroke-width="0.6"/>
<rect x="115.25" y="333.34" width="23.45" height="33.6" fill="#1428f0"/>
<rect x="138.7" y="333.34" width="19.1" height="33.6" fill="#1428f0"/>
<rect x="157.8" y="333.34" width="22.7" height="33.6" fill="#1428f0"/>
<rect x="180.5" y="333.34" width="18.6" height="33.6" fill="#1428f0"/>
<line x1="138.7" y1="333.34" x2="138.7" y2="366.94" stroke="#9aa4d0" stroke-width="0.8"/>
<line x1="157.8" y1="333.34" x2="157.8" y2="366.94" stroke="#9aa4d0" stroke-width="0.8"/>
<line x1="180.5" y1="333.34" x2="180.5" y2="366.94" stroke="#9aa4d0" stroke-width="0.8"/>
<use href="#e1a" x="124.9" y="350.34" fill="#202a48"/>
<use href="#e1b" x="124.9" y="350.34" fill="#f03212"/>
<use href="#e1c" x="124.9" y="350.34" fill="#202a48"/>
<use href="#e1d" x="124.9" y="350.34" fill="#1428f0"/>
<use href="#e1a" x="146.1" y="350.34" fill="#202a48"/>
<use href="#e1b" x="146.1" y="350.34" fill="#f03212"/>
<use href="#e1c" x="146.1" y="350.34" fill="#202a48"/>
<use href="#e1d" x="146.1" y="350.34" fill="#1428f0"/>
<use href="#e1a" x="167.3" y="350.34" fill="#202a48"/>
<use href="#e1b" x="167.3" y="350.34" fill="#f03212"/>
<use href="#e1c" x="167.3" y="350.34" fill="#202a48"/>
<use href="#e1d" x="167.3" y="350.34" fill="#1428f0"/>
<use href="#e1a" x="189" y="350.34" fill="#202a48"/>
<use href="#e1b" x="189" y="350.34" fill="#f03212"/>
<use href="#e1c" x="189" y="350.34" fill="#202a48"/>
<use href="#e1d" x="189" y="350.34" fill="#1428f0"/>
<path d="M199.1 355.04 q2.2 3 0 6" fill="none" stroke="#999" stroke-width="0.6"/>
<rect x="115.25" y="369.2" width="23.45" height="33.6" fill="#1428f0"/>
<rect x="138.7" y="369.2" width="19.1" height="33.6" fill="#1428f0"/>
<rect x="157.8" y="369.2" width="22.7" height="33.6" fill="#1428f0"/>
<rect x="180.5" y="369.2" width="18.6" height="33.6" fill="#1428f0"/>
<line x1="138.7" y1="369.2" x2="138.7" y2="402.8" stroke="#9aa4d0" stroke-width="0.8"/>
<line x1="157.8" y1="369.2" x2="157.8" y2="402.8" stroke="#9aa4d0" stroke-width="0.8"/>
<line x1="180.5" y1="369.2" x2="180.5" y2="402.8" stroke="#9aa4d0" stroke-width="0.8"/>
<use href="#e1a" x="124.9" y="386.2" fill="#202a48"/>
<use href="#e1b" x="124.9" y="386.2" fill="#f03212"/>
<use href="#e1c" x="124.9" y="386.2" fill="#202a48"/>
<use href="#e1d" x="124.9" y="386.2" fill="#1428f0"/>
<use href="#e1a" x="146.1" y="386.2" fill="#202a48"/>
<use href="#e1b" x="146.1" y="386.2" fill="#f03212"/>
<use href="#e1c" x="146.1" y="386.2" fill="#202a48"/>
<use href="#e1d" x="146.1" y="386.2" fill="#1428f0"/>
<use href="#e1a" x="167.3" y="386.2" fill="#202a48"/>
<use href="#e1b" x="167.3" y="386.2" fill="#f03212"/>
<use href="#e1c" x="167.3" y="386.2" fill="#202a48"/>
<use href="#e1d" x="167.3" y="386.2" fill="#1428f0"/>
<use href="#e1a" x="189" y="386.2" fill="#202a48"/>
<use href="#e1b" x="189" y="386.2" fill="#f03212"/>
<use href="#e1c" x="189" y="386.2" fill="#202a48"/>
<use href="#e1d" x="189" y="386.2" fill="#1428f0"/>
<path d="M199.1 390.9 q2.2 3 0 6" fill="none" stroke="#999" stroke-width="0.6"/>
<rect x="115.25" y="405.06" width="23.45" height="33.6" fill="#1428f0"/>
<rect x="138.7" y="405.06" width="19.1" height="33.6" fill="#1428f0"/>
<rect x="157.8" y="405.06" width="22.7" height="33.6" fill="#1428f0"/>
<rect x="180.5" y="405.06" width="18.6" height="33.6" fill="#1428f0"/>
<line x1="138.7" y1="405.06" x2="138.7" y2="438.66" stroke="#9aa4d0" stroke-width="0.8"/>
<line x1="157.8" y1="405.06" x2="157.8" y2="438.66" stroke="#9aa4d0" stroke-width="0.8"/>
<line x1="180.5" y1="405.06" x2="180.5" y2="438.66" stroke="#9aa4d0" stroke-width="0.8"/>
<use href="#e1a" x="124.9" y="422.06" fill="#202a48"/>
<use href="#e1b" x="124.9" y="422.06" fill="#f03212"/>
<use href="#e1c" x="124.9" y="422.06" fill="#202a48"/>
<use href="#e1d" x="124.9" y="422.06" fill="#1428f0"/>
<use href="#e1a" x="146.1" y="422.06" fill="#202a48"/>
<use href="#e1b" x="146.1" y="422.06" fill="#f03212"/>
<use href="#e1c" x="146.1" y="422.06" fill="#202a48"/>
<use href="#e1d" x="146.1" y="422.06" fill="#1428f0"/>
<use href="#e1a" x="167.3" y="422.06" fill="#202a48"/>
<use href="#e1b" x="167.3" y="422.06" fill="#f03212"/>
<use href="#e1c" x="167.3" y="422.06" fill="#202a48"/>
<use href="#e1d" x="167.3" y="422.06" fill="#1428f0"/>
<use href="#e1a" x="189" y="422.06" fill="#202a48"/>
<use href="#e1b" x="189" y="422.06" fill="#f03212"/>
<use href="#e1c" x="189" y="422.06" fill="#202a48"/>
<use href="#e1d" x="189" y="422.06" fill="#1428f0"/>
<path d="M199.1 426.76 q2.2 3 0 6" fill="none" stroke="#999" stroke-width="0.6"/>
<rect x="115.25" y="440.92" width="23.45" height="33.6" fill="#1428f0"/>
<rect x="138.7" y="440.92" width="19.1" height="33.6" fill="#1428f0"/>
<rect x="157.8" y="440.92" width="22.7" height="33.6" fill="#1428f0"/>
<rect x="180.5" y="440.92" width="18.6" height="33.6" fill="#1428f0"/>
<line x1="138.7" y1="440.92" x2="138.7" y2="474.52" stroke="#9aa4d0" stroke-width="0.8"/>
<line x1="157.8" y1="440.92" x2="157.8" y2="474.52" stroke="#9aa4d0" stroke-width="0.8"/>
<line x1="180.5" y1="440.92" x2="180.5" y2="474.52" stroke="#9aa4d0" stroke-width="0.8"/>
<use href="#e1a" x="124.9" y="457.92" fill="#202a48"/>
<use href="#e1b" x="124.9" y="457.92" fill="#f03212"/>
<use href="#e1c" x="124.9" y="457.92" fill="#202a48"/>
<use href="#e1d" x="124.9" y="457.92" fill="#1428f0"/>
<use href="#e1a" x="146.1" y="457.92" fill="#202a48"/>
<use href="#e1b" x="146.1" y="457.92" fill="#f03212"/>
<use href="#e1c" x="146.1" y="457.92" fill="#202a48"/>
<use href="#e1d" x="146.1" y="457.92" fill="#1428f0"/>
<use href="#e1a" x="167.3" y="457.92" fill="#202a48"/>
<use href="#e1b" x="167.3" y="457.92" fill="#f03212"/>
<use href="#e1c" x="167.3" y="457.92" fill="#202a48"/>
<use href="#e1d" x="167.3" y="457.92" fill="#1428f0"/>
<use href="#e1a" x="189" y="457.92" fill="#202a48"/>
<use href="#e1b" x="189" y="457.92" fill="#f03212"/>
<use href="#e1c" x="189" y="457.92" fill="#202a48"/>
<use href="#e1d" x="189" y="457.92" fill="#1428f0"/>
<path d="M199.1 462.62 q2.2 3 0 6" fill="none" stroke="#999" stroke-width="0.6"/>
<rect x="99.6" y="195.6" width="3.7" height="8.4" fill="#fff"/>
<path d="M100.3 195.3 Q101.45 196.7 102.6 195.3 M100.3 204.3 Q101.45 202.9 102.6 204.3" fill="none" stroke="#7a7a7a" stroke-width="0.8"/>
<rect x="75.3" y="196.9" width="39.95" height="5.8" fill="#1428f0" stroke="#505060" stroke-width="0.8"/>
<rect x="99.6" y="231.46" width="3.7" height="8.4" fill="#fff"/>
<path d="M100.3 231.16 Q101.45 232.56 102.6 231.16 M100.3 240.16 Q101.45 238.76 102.6 240.16" fill="none" stroke="#7a7a7a" stroke-width="0.8"/>
<rect x="75.3" y="232.76" width="39.95" height="5.8" fill="#1428f0" stroke="#505060" stroke-width="0.8"/>
<rect x="99.6" y="267.32" width="3.7" height="8.4" fill="#fff"/>
<path d="M100.3 267.02 Q101.45 268.42 102.6 267.02 M100.3 276.02 Q101.45 274.62 102.6 276.02" fill="none" stroke="#7a7a7a" stroke-width="0.8"/>
<rect x="75.3" y="268.62" width="39.95" height="5.8" fill="#1428f0" stroke="#505060" stroke-width="0.8"/>
<path d="M90 303.28 H113.9 M90 303.28 L100.3 311.38" stroke="#8a8a8a" stroke-width="0.7" fill="none"/>
<rect x="99.6" y="307.98" width="15.65" height="2.7" fill="#0c14a8" stroke="#222" stroke-width="0.3"/>
<path d="M89.7 346.44 L100.3 339.24 M89.7 347.24 H113.9" stroke="#8a8a8a" stroke-width="0.7" fill="none"/>
<path d="M75.3 346.74 H89.7" stroke="#a8a8a8" stroke-width="1.8" fill="none"/>
<rect x="99.6" y="339.24" width="15.65" height="2.7" fill="#0c14a8" stroke="#222" stroke-width="0.3"/>
<rect x="99.6" y="374.9" width="3.7" height="8.4" fill="#fff"/>
<path d="M100.3 374.6 Q101.45 376 102.6 374.6 M100.3 383.6 Q101.45 382.2 102.6 383.6" fill="none" stroke="#7a7a7a" stroke-width="0.8"/>
<rect x="75.3" y="376.2" width="39.95" height="5.8" fill="#1428f0" stroke="#505060" stroke-width="0.8"/>
<rect x="99.6" y="410.76" width="3.7" height="8.4" fill="#fff"/>
<path d="M100.3 410.46 Q101.45 411.86 102.6 410.46 M100.3 419.46 Q101.45 418.06 102.6 419.46" fill="none" stroke="#7a7a7a" stroke-width="0.8"/>
<rect x="75.3" y="412.06" width="39.95" height="5.8" fill="#1428f0" stroke="#505060" stroke-width="0.8"/>
<rect x="99.6" y="446.62" width="3.7" height="8.4" fill="#fff"/>
<path d="M100.3 446.32 Q101.45 447.72 102.6 446.32 M100.3 455.32 Q101.45 453.92 102.6 455.32" fill="none" stroke="#7a7a7a" stroke-width="0.8"/>
<rect x="75.3" y="447.92" width="39.95" height="5.8" fill="#1428f0" stroke="#505060" stroke-width="0.8"/>
<defs><linearGradient id="cb249" x1="0" y1="0" x2="0" y2="1"><stop offset="0" stop-color="#f01c08"/><stop offset="0.1" stop-color="#f8640a"/><stop offset="0.2" stop-color="#f8d400"/><stop offset="0.28" stop-color="#f8f800"/><stop offset="0.38" stop-color="#a0f000"/><stop offset="0.48" stop-color="#10e010"/><stop offset="0.58" stop-color="#10f0a0"/><stop offset="0.68" stop-color="#10f8f8"/><stop offset="0.78" stop-color="#10b0f8"/><stop offset="0.88" stop-color="#1050f0"/><stop offset="1" stop-color="#0a0ad0"/></linearGradient></defs>
<rect x="249.2" y="184.5" width="13.3" height="69.2" fill="url(#cb249)"/>
<text x="266.5" y="187.1" font-size="4.8" fill="#000" stroke="#000" stroke-width="0.1">300 K</text>
<text x="266.5" y="256.2" font-size="4.8" fill="#000" stroke="#000" stroke-width="0.1">90 K</text>
<line x1="262.5" y1="184.5" x2="264.5" y2="184.5" stroke="#666" stroke-width="0.5"/>
<line x1="262.5" y1="253.7" x2="264.5" y2="253.7" stroke="#666" stroke-width="0.5"/>
<text x="75.6" y="490" font-size="4.65" fill="#000" stroke="#000" stroke-width="0.1" xml:space="preserve">Min = 90 K  Max = 300 K</text>
<text x="75.6" y="499.5" font-size="4.65" fill="#000" stroke="#000" stroke-width="0.1">Iteration = 23</text>
<defs><path id="e2a" d="M7.90 0.00 L7.86 2.09 L7.73 3.79 L7.51 5.34 L7.22 6.77 L6.84 8.09 L6.38 9.28 L5.84 10.36 L5.24 11.30 L4.56 12.11 L3.82 12.79 L3.01 13.31 L2.14 13.69 L1.18 13.92 L0.00 14.00 L-1.18 13.92 L-2.14 13.69 L-3.01 13.31 L-3.82 12.79 L-4.56 12.11 L-5.24 11.30 L-5.84 10.36 L-6.38 9.28 L-6.84 8.09 L-7.22 6.77 L-7.51 5.34 L-7.73 3.79 L-7.86 2.09 L-7.90 0.00 L-7.86 -2.09 L-7.73 -3.79 L-7.51 -5.34 L-7.22 -6.77 L-6.84 -8.09 L-6.38 -9.28 L-5.84 -10.36 L-5.24 -11.30 L-4.56 -12.11 L-3.82 -12.79 L-3.01 -13.31 L-2.14 -13.69 L-1.18 -13.92 L-0.00 -14.00 L1.18 -13.92 L2.14 -13.69 L3.01 -13.31 L3.82 -12.79 L4.56 -12.11 L5.24 -11.30 L5.84 -10.36 L6.38 -9.28 L6.84 -8.09 L7.22 -6.77 L7.51 -5.34 L7.73 -3.79 L7.86 -2.09 Z"/><path id="e2b" d="M7.10 0.00 L7.06 1.97 L6.94 3.57 L6.75 5.04 L6.48 6.39 L6.14 7.63 L5.73 8.75 L5.25 9.77 L4.71 10.66 L4.10 11.42 L3.44 12.06 L2.71 12.55 L1.92 12.91 L1.06 13.13 L0.00 13.20 L-1.06 13.13 L-1.92 12.91 L-2.71 12.55 L-3.44 12.06 L-4.10 11.42 L-4.71 10.66 L-5.25 9.77 L-5.73 8.75 L-6.14 7.63 L-6.48 6.39 L-6.75 5.04 L-6.94 3.57 L-7.06 1.97 L-7.10 0.00 L-7.06 -1.97 L-6.94 -3.57 L-6.75 -5.04 L-6.48 -6.39 L-6.14 -7.63 L-5.73 -8.75 L-5.25 -9.77 L-4.71 -10.66 L-4.10 -11.42 L-3.44 -12.06 L-2.71 -12.55 L-1.92 -12.91 L-1.06 -13.13 L-0.00 -13.20 L1.06 -13.13 L1.92 -12.91 L2.71 -12.55 L3.44 -12.06 L4.10 -11.42 L4.71 -10.66 L5.25 -9.77 L5.73 -8.75 L6.14 -7.63 L6.48 -6.39 L6.75 -5.04 L6.94 -3.57 L7.06 -1.97 Z"/><path id="e2c" d="M4.00 0.00 L3.98 1.42 L3.91 2.57 L3.80 3.63 L3.65 4.60 L3.46 5.49 L3.23 6.30 L2.96 7.03 L2.65 7.67 L2.31 8.22 L1.94 8.68 L1.53 9.03 L1.08 9.29 L0.60 9.45 L0.00 9.50 L-0.60 9.45 L-1.08 9.29 L-1.53 9.03 L-1.94 8.68 L-2.31 8.22 L-2.65 7.67 L-2.96 7.03 L-3.23 6.30 L-3.46 5.49 L-3.65 4.60 L-3.80 3.63 L-3.91 2.57 L-3.98 1.42 L-4.00 0.00 L-3.98 -1.42 L-3.91 -2.57 L-3.80 -3.63 L-3.65 -4.60 L-3.46 -5.49 L-3.23 -6.30 L-2.96 -7.03 L-2.65 -7.67 L-2.31 -8.22 L-1.94 -8.68 L-1.53 -9.03 L-1.08 -9.29 L-0.60 -9.45 L-0.00 -9.50 L0.60 -9.45 L1.08 -9.29 L1.53 -9.03 L1.94 -8.68 L2.31 -8.22 L2.65 -7.67 L2.96 -7.03 L3.23 -6.30 L3.46 -5.49 L3.65 -4.60 L3.80 -3.63 L3.91 -2.57 L3.98 -1.42 Z"/><path id="e2d" d="M3.20 0.00 L3.18 1.30 L3.13 2.36 L3.04 3.32 L2.92 4.21 L2.77 5.03 L2.58 5.77 L2.37 6.44 L2.12 7.02 L1.85 7.53 L1.55 7.95 L1.22 8.27 L0.87 8.51 L0.48 8.65 L0.00 8.70 L-0.48 8.65 L-0.87 8.51 L-1.22 8.27 L-1.55 7.95 L-1.85 7.53 L-2.12 7.02 L-2.37 6.44 L-2.58 5.77 L-2.77 5.03 L-2.92 4.21 L-3.04 3.32 L-3.13 2.36 L-3.18 1.30 L-3.20 0.00 L-3.18 -1.30 L-3.13 -2.36 L-3.04 -3.32 L-2.92 -4.21 L-2.77 -5.03 L-2.58 -5.77 L-2.37 -6.44 L-2.12 -7.02 L-1.85 -7.53 L-1.55 -7.95 L-1.22 -8.27 L-0.87 -8.51 L-0.48 -8.65 L-0.00 -8.70 L0.48 -8.65 L0.87 -8.51 L1.22 -8.27 L1.55 -7.95 L1.85 -7.53 L2.12 -7.02 L2.37 -6.44 L2.58 -5.77 L2.77 -5.03 L2.92 -4.21 L3.04 -3.32 L3.13 -2.36 L3.18 -1.30 Z"/></defs>
<rect x="367.5" y="170.5" width="225" height="330" fill="#000"/>
<rect x="369" y="172" width="222" height="327" fill="#fff" stroke="#a0a0a0" stroke-width="0.8"/>
<text x="422.9" y="178.2" font-size="4.75" fill="#000" stroke="#000" stroke-width="0.12">Temperature (Fluid) [K]</text>
<rect x="399" y="183.1" width="111.4" height="287.5" fill="#fff" stroke="#7a7a7a" stroke-width="1"/>
<rect x="401.2" y="187" width="12.7" height="280.8" fill="#fff" stroke="#7a7a7a" stroke-width="1"/>
<rect x="495.8" y="187" width="11.5" height="280.8" fill="#fff" stroke="#7a7a7a" stroke-width="1"/>
<rect x="413.9" y="187.8" width="22.2" height="33.2" fill="#1a5cf5"/>
<rect x="436.1" y="187.8" width="18.1" height="33.2" fill="#1040e8"/>
<rect x="454.2" y="187.8" width="23" height="33.2" fill="#1a50f0"/>
<rect x="477.2" y="187.8" width="18.6" height="33.2" fill="#0a14e0"/>
<line x1="436.1" y1="187.8" x2="436.1" y2="221" stroke="#9aa4d0" stroke-width="0.8"/>
<line x1="454.2" y1="187.8" x2="454.2" y2="221" stroke="#9aa4d0" stroke-width="0.8"/>
<line x1="477.2" y1="187.8" x2="477.2" y2="221" stroke="#9aa4d0" stroke-width="0.8"/>
<use href="#e2a" x="423.2" y="204.4" fill="#202a48"/>
<use href="#e2b" x="423.2" y="204.4" fill="#28c8f0"/>
<use href="#e2c" x="423.2" y="204.4" fill="#202a48"/>
<use href="#e2d" x="423.2" y="204.4" fill="#0f28e8"/>
<use href="#e2a" x="443.8" y="204.4" fill="#202a48"/>
<use href="#e2b" x="443.8" y="204.4" fill="#28c8f0"/>
<use href="#e2c" x="443.8" y="204.4" fill="#202a48"/>
<use href="#e2d" x="443.8" y="204.4" fill="#1a48e8"/>
<use href="#e2a" x="464.5" y="204.4" fill="#202a48"/>
<use href="#e2b" x="464.5" y="204.4" fill="#28c8f0"/>
<use href="#e2c" x="464.5" y="204.4" fill="#202a48"/>
<use href="#e2d" x="464.5" y="204.4" fill="#1a58f0"/>
<use href="#e2a" x="485.6" y="204.4" fill="#202a48"/>
<use href="#e2b" x="485.6" y="204.4" fill="#28c8f0"/>
<use href="#e2c" x="485.6" y="204.4" fill="#202a48"/>
<use href="#e2d" x="485.6" y="204.4" fill="#1a70f0"/>
<path d="M495.8 209.5 q2.2 3 0 6" fill="none" stroke="#999" stroke-width="0.6"/>
<rect x="413.9" y="222.9" width="22.2" height="33.2" fill="#1a5cf5"/>
<rect x="436.1" y="222.9" width="18.1" height="33.2" fill="#1040e8"/>
<rect x="454.2" y="222.9" width="23" height="33.2" fill="#1a50f0"/>
<rect x="477.2" y="222.9" width="18.6" height="33.2" fill="#0a14e0"/>
<line x1="436.1" y1="222.9" x2="436.1" y2="256.1" stroke="#9aa4d0" stroke-width="0.8"/>
<line x1="454.2" y1="222.9" x2="454.2" y2="256.1" stroke="#9aa4d0" stroke-width="0.8"/>
<line x1="477.2" y1="222.9" x2="477.2" y2="256.1" stroke="#9aa4d0" stroke-width="0.8"/>
<use href="#e2a" x="423.2" y="239.5" fill="#202a48"/>
<use href="#e2b" x="423.2" y="239.5" fill="#28c8f0"/>
<use href="#e2c" x="423.2" y="239.5" fill="#202a48"/>
<use href="#e2d" x="423.2" y="239.5" fill="#0f28e8"/>
<use href="#e2a" x="443.8" y="239.5" fill="#202a48"/>
<use href="#e2b" x="443.8" y="239.5" fill="#28c8f0"/>
<use href="#e2c" x="443.8" y="239.5" fill="#202a48"/>
<use href="#e2d" x="443.8" y="239.5" fill="#1a48e8"/>
<use href="#e2a" x="464.5" y="239.5" fill="#202a48"/>
<use href="#e2b" x="464.5" y="239.5" fill="#28c8f0"/>
<use href="#e2c" x="464.5" y="239.5" fill="#202a48"/>
<use href="#e2d" x="464.5" y="239.5" fill="#1a58f0"/>
<use href="#e2a" x="485.6" y="239.5" fill="#202a48"/>
<use href="#e2b" x="485.6" y="239.5" fill="#28c8f0"/>
<use href="#e2c" x="485.6" y="239.5" fill="#202a48"/>
<use href="#e2d" x="485.6" y="239.5" fill="#1a70f0"/>
<path d="M495.8 244.6 q2.2 3 0 6" fill="none" stroke="#999" stroke-width="0.6"/>
<rect x="413.9" y="258" width="22.2" height="33.2" fill="#1a5cf5"/>
<rect x="436.1" y="258" width="18.1" height="33.2" fill="#1040e8"/>
<rect x="454.2" y="258" width="23" height="33.2" fill="#1a50f0"/>
<rect x="477.2" y="258" width="18.6" height="33.2" fill="#0a14e0"/>
<line x1="436.1" y1="258" x2="436.1" y2="291.2" stroke="#9aa4d0" stroke-width="0.8"/>
<line x1="454.2" y1="258" x2="454.2" y2="291.2" stroke="#9aa4d0" stroke-width="0.8"/>
<line x1="477.2" y1="258" x2="477.2" y2="291.2" stroke="#9aa4d0" stroke-width="0.8"/>
<use href="#e2a" x="423.2" y="274.6" fill="#202a48"/>
<use href="#e2b" x="423.2" y="274.6" fill="#28c8f0"/>
<use href="#e2c" x="423.2" y="274.6" fill="#202a48"/>
<use href="#e2d" x="423.2" y="274.6" fill="#0f28e8"/>
<use href="#e2a" x="443.8" y="274.6" fill="#202a48"/>
<use href="#e2b" x="443.8" y="274.6" fill="#28c8f0"/>
<use href="#e2c" x="443.8" y="274.6" fill="#202a48"/>
<use href="#e2d" x="443.8" y="274.6" fill="#1a48e8"/>
<use href="#e2a" x="464.5" y="274.6" fill="#202a48"/>
<use href="#e2b" x="464.5" y="274.6" fill="#28c8f0"/>
<use href="#e2c" x="464.5" y="274.6" fill="#202a48"/>
<use href="#e2d" x="464.5" y="274.6" fill="#1a58f0"/>
<use href="#e2a" x="485.6" y="274.6" fill="#202a48"/>
<use href="#e2b" x="485.6" y="274.6" fill="#28c8f0"/>
<use href="#e2c" x="485.6" y="274.6" fill="#202a48"/>
<use href="#e2d" x="485.6" y="274.6" fill="#1a70f0"/>
<path d="M495.8 279.7 q2.2 3 0 6" fill="none" stroke="#999" stroke-width="0.6"/>
<rect x="413.9" y="293.1" width="22.2" height="33.2" fill="#1a5cf5"/>
<rect x="436.1" y="293.1" width="18.1" height="33.2" fill="#1040e8"/>
<rect x="454.2" y="293.1" width="23" height="33.2" fill="#1a50f0"/>
<rect x="477.2" y="293.1" width="18.6" height="33.2" fill="#0a14e0"/>
<line x1="436.1" y1="293.1" x2="436.1" y2="326.3" stroke="#9aa4d0" stroke-width="0.8"/>
<line x1="454.2" y1="293.1" x2="454.2" y2="326.3" stroke="#9aa4d0" stroke-width="0.8"/>
<line x1="477.2" y1="293.1" x2="477.2" y2="326.3" stroke="#9aa4d0" stroke-width="0.8"/>
<use href="#e2a" x="423.2" y="309.7" fill="#202a48"/>
<use href="#e2b" x="423.2" y="309.7" fill="#28c8f0"/>
<use href="#e2c" x="423.2" y="309.7" fill="#202a48"/>
<use href="#e2d" x="423.2" y="309.7" fill="#0f28e8"/>
<use href="#e2a" x="443.8" y="309.7" fill="#202a48"/>
<use href="#e2b" x="443.8" y="309.7" fill="#28c8f0"/>
<use href="#e2c" x="443.8" y="309.7" fill="#202a48"/>
<use href="#e2d" x="443.8" y="309.7" fill="#1a48e8"/>
<use href="#e2a" x="464.5" y="309.7" fill="#202a48"/>
<use href="#e2b" x="464.5" y="309.7" fill="#28c8f0"/>
<use href="#e2c" x="464.5" y="309.7" fill="#202a48"/>
<use href="#e2d" x="464.5" y="309.7" fill="#1a58f0"/>
<use href="#e2a" x="485.6" y="309.7" fill="#202a48"/>
<use href="#e2b" x="485.6" y="309.7" fill="#28c8f0"/>
<use href="#e2c" x="485.6" y="309.7" fill="#202a48"/>
<use href="#e2d" x="485.6" y="309.7" fill="#1a70f0"/>
<path d="M495.8 314.8 q2.2 3 0 6" fill="none" stroke="#999" stroke-width="0.6"/>
<rect x="413.9" y="328.2" width="22.2" height="33.2" fill="#1a5cf5"/>
<rect x="436.1" y="328.2" width="18.1" height="33.2" fill="#1040e8"/>
<rect x="454.2" y="328.2" width="23" height="33.2" fill="#1a50f0"/>
<rect x="477.2" y="328.2" width="18.6" height="33.2" fill="#0a14e0"/>
<line x1="436.1" y1="328.2" x2="436.1" y2="361.4" stroke="#9aa4d0" stroke-width="0.8"/>
<line x1="454.2" y1="328.2" x2="454.2" y2="361.4" stroke="#9aa4d0" stroke-width="0.8"/>
<line x1="477.2" y1="328.2" x2="477.2" y2="361.4" stroke="#9aa4d0" stroke-width="0.8"/>
<use href="#e2a" x="423.2" y="344.8" fill="#202a48"/>
<use href="#e2b" x="423.2" y="344.8" fill="#2ed6f4"/>
<use href="#e2c" x="423.2" y="344.8" fill="#202a48"/>
<use href="#e2d" x="423.2" y="344.8" fill="#0f28e8"/>
<use href="#e2a" x="443.8" y="344.8" fill="#202a48"/>
<use href="#e2b" x="443.8" y="344.8" fill="#2ed6f4"/>
<use href="#e2c" x="443.8" y="344.8" fill="#202a48"/>
<use href="#e2d" x="443.8" y="344.8" fill="#1a48e8"/>
<use href="#e2a" x="464.5" y="344.8" fill="#202a48"/>
<use href="#e2b" x="464.5" y="344.8" fill="#2ed6f4"/>
<use href="#e2c" x="464.5" y="344.8" fill="#202a48"/>
<use href="#e2d" x="464.5" y="344.8" fill="#1a58f0"/>
<use href="#e2a" x="485.6" y="344.8" fill="#202a48"/>
<use href="#e2b" x="485.6" y="344.8" fill="#2ed6f4"/>
<use href="#e2c" x="485.6" y="344.8" fill="#202a48"/>
<use href="#e2d" x="485.6" y="344.8" fill="#1a70f0"/>
<path d="M495.8 349.9 q2.2 3 0 6" fill="none" stroke="#999" stroke-width="0.6"/>
<rect x="413.9" y="363.3" width="22.2" height="33.2" fill="#1a66f5"/>
<rect x="436.1" y="363.3" width="18.1" height="33.2" fill="#1040e8"/>
<rect x="454.2" y="363.3" width="23" height="33.2" fill="#1a50f0"/>
<rect x="477.2" y="363.3" width="18.6" height="33.2" fill="#0a14e0"/>
<line x1="436.1" y1="363.3" x2="436.1" y2="396.5" stroke="#9aa4d0" stroke-width="0.8"/>
<line x1="454.2" y1="363.3" x2="454.2" y2="396.5" stroke="#9aa4d0" stroke-width="0.8"/>
<line x1="477.2" y1="363.3" x2="477.2" y2="396.5" stroke="#9aa4d0" stroke-width="0.8"/>
<use href="#e2a" x="423.2" y="379.9" fill="#202a48"/>
<use href="#e2b" x="423.2" y="379.9" fill="#30e0f4"/>
<use href="#e2c" x="423.2" y="379.9" fill="#202a48"/>
<use href="#e2d" x="423.2" y="379.9" fill="#0f28e8"/>
<use href="#e2a" x="443.8" y="379.9" fill="#202a48"/>
<use href="#e2b" x="443.8" y="379.9" fill="#30e0f4"/>
<use href="#e2c" x="443.8" y="379.9" fill="#202a48"/>
<use href="#e2d" x="443.8" y="379.9" fill="#1a48e8"/>
<use href="#e2a" x="464.5" y="379.9" fill="#202a48"/>
<use href="#e2b" x="464.5" y="379.9" fill="#30e0f4"/>
<use href="#e2c" x="464.5" y="379.9" fill="#202a48"/>
<use href="#e2d" x="464.5" y="379.9" fill="#1a58f0"/>
<use href="#e2a" x="485.6" y="379.9" fill="#202a48"/>
<use href="#e2b" x="485.6" y="379.9" fill="#30eccc"/>
<use href="#e2c" x="485.6" y="379.9" fill="#202a48"/>
<use href="#e2d" x="485.6" y="379.9" fill="#1a70f0"/>
<path d="M495.8 385 q2.2 3 0 6" fill="none" stroke="#999" stroke-width="0.6"/>
<defs><linearGradient id="ge260" x1="0" y1="0" x2="1" y2="0.3"><stop offset="0" stop-color="#38acf4"/><stop offset="1" stop-color="#1e88ec"/></linearGradient></defs>
<rect x="413.9" y="398.4" width="22.2" height="33.2" fill="url(#ge260)"/>
<defs><linearGradient id="ge261" x1="0" y1="0" x2="0" y2="1"><stop offset="0" stop-color="#1a70e8"/><stop offset="1" stop-color="#1c84ee"/></linearGradient></defs>
<rect x="436.1" y="398.4" width="18.1" height="33.2" fill="url(#ge261)"/>
<defs><linearGradient id="ge262" x1="0" y1="0" x2="1" y2="1"><stop offset="0" stop-color="#1a60e8"/><stop offset="1" stop-color="#2088f0"/></linearGradient></defs>
<rect x="454.2" y="398.4" width="23" height="33.2" fill="url(#ge262)"/>
<rect x="477.2" y="398.4" width="18.6" height="33.2" fill="#0a20d0"/>
<line x1="436.1" y1="398.4" x2="436.1" y2="431.6" stroke="#9aa4d0" stroke-width="0.8"/>
<line x1="454.2" y1="398.4" x2="454.2" y2="431.6" stroke="#9aa4d0" stroke-width="0.8"/>
<line x1="477.2" y1="398.4" x2="477.2" y2="431.6" stroke="#9aa4d0" stroke-width="0.8"/>
<use href="#e2a" x="423.2" y="415" fill="#202a48"/>
<use href="#e2b" x="423.2" y="415" fill="#38e020"/>
<use href="#e2c" x="423.2" y="415" fill="#202a48"/>
<use href="#e2d" x="423.2" y="415" fill="#1a40e0"/>
<use href="#e2a" x="443.8" y="415" fill="#202a48"/>
<use href="#e2b" x="443.8" y="415" fill="#20e020"/>
<use href="#e2c" x="443.8" y="415" fill="#202a48"/>
<use href="#e2d" x="443.8" y="415" fill="#1a70f0"/>
<use href="#e2a" x="464.5" y="415" fill="#202a48"/>
<use href="#e2b" x="464.5" y="415" fill="#30e070"/>
<use href="#e2c" x="464.5" y="415" fill="#202a48"/>
<use href="#e2d" x="464.5" y="415" fill="#20a8f0"/>
<use href="#e2a" x="485.6" y="415" fill="#202a48"/>
<use href="#e2b" x="485.6" y="415" fill="#20e8a0"/>
<use href="#e2c" x="485.6" y="415" fill="#202a48"/>
<use href="#e2d" x="485.6" y="415" fill="#20e0f0"/>
<path d="M495.8 420.1 q2.2 3 0 6" fill="none" stroke="#999" stroke-width="0.6"/>
<rect x="413.9" y="433.5" width="22.2" height="33.2" fill="#2cd4f8"/>
<defs><linearGradient id="ge271" x1="0" y1="0" x2="0" y2="1"><stop offset="0" stop-color="#1a88f0"/><stop offset="1" stop-color="#22a8f4"/></linearGradient></defs>
<rect x="436.1" y="433.5" width="18.1" height="33.2" fill="url(#ge271)"/>
<defs><linearGradient id="ge272" x1="0.3" y1="0" x2="1" y2="1"><stop offset="0" stop-color="#1a50e8"/><stop offset="1" stop-color="#40d8f8"/></linearGradient></defs>
<rect x="454.2" y="433.5" width="23" height="33.2" fill="url(#ge272)"/>
<rect x="477.2" y="433.5" width="18.6" height="33.2" fill="#0818d4"/>
<line x1="436.1" y1="433.5" x2="436.1" y2="466.7" stroke="#9aa4d0" stroke-width="0.8"/>
<line x1="454.2" y1="433.5" x2="454.2" y2="466.7" stroke="#9aa4d0" stroke-width="0.8"/>
<line x1="477.2" y1="433.5" x2="477.2" y2="466.7" stroke="#9aa4d0" stroke-width="0.8"/>
<use href="#e2a" x="423.2" y="450.1" fill="#202a48"/>
<use href="#e2b" x="423.2" y="450.1" fill="#b8f028"/>
<use href="#e2c" x="423.2" y="450.1" fill="#202a48"/>
<use href="#e2d" x="423.2" y="450.1" fill="#1a40e8"/>
<use href="#e2a" x="443.8" y="450.1" fill="#202a48"/>
<use href="#e2b" x="443.8" y="450.1" fill="#f8f000"/>
<use href="#e2c" x="443.8" y="450.1" fill="#202a48"/>
<use href="#e2d" x="443.8" y="450.1" fill="#1a90f0"/>
<use href="#e2a" x="464.5" y="450.1" fill="#202a48"/>
<use href="#e2b" x="464.5" y="450.1" fill="#f8b010"/>
<use href="#e2c" x="464.5" y="450.1" fill="#202a48"/>
<use href="#e2d" x="464.5" y="450.1" fill="#20e8f8"/>
<use href="#e2a" x="485.6" y="450.1" fill="#202a48"/>
<use href="#e2b" x="485.6" y="450.1" fill="#f86010"/>
<use href="#e2c" x="485.6" y="450.1" fill="#202a48"/>
<use href="#e2d" x="485.6" y="450.1" fill="#20e0a8"/>
<path d="M495.8 455.2 q2.2 3 0 6" fill="none" stroke="#999" stroke-width="0.6"/>
<rect x="398.3" y="192" width="3.6" height="10.2" fill="#fff"/>
<path d="M399 191.7 Q400.1 193.1 401.2 191.7 M399 202.5 Q400.1 201.1 401.2 202.5" fill="none" stroke="#7a7a7a" stroke-width="0.8"/>
<rect x="375.1" y="193.3" width="38.8" height="7.6" fill="#1a5cf5" stroke="#505060" stroke-width="0.8"/>
<rect x="398.3" y="227.1" width="3.6" height="10.2" fill="#fff"/>
<path d="M399 226.8 Q400.1 228.2 401.2 226.8 M399 237.6 Q400.1 236.2 401.2 237.6" fill="none" stroke="#7a7a7a" stroke-width="0.8"/>
<rect x="375.1" y="228.4" width="38.8" height="7.6" fill="#1a5cf5" stroke="#505060" stroke-width="0.8"/>
<rect x="398.3" y="262.2" width="3.6" height="10.2" fill="#fff"/>
<path d="M399 261.9 Q400.1 263.3 401.2 261.9 M399 272.7 Q400.1 271.3 401.2 272.7" fill="none" stroke="#7a7a7a" stroke-width="0.8"/>
<rect x="375.1" y="263.5" width="38.8" height="7.6" fill="#1a5cf5" stroke="#505060" stroke-width="0.8"/>
<rect x="398.3" y="297.3" width="3.6" height="10.2" fill="#fff"/>
<path d="M399 297 Q400.1 298.4 401.2 297 M399 307.8 Q400.1 306.4 401.2 307.8" fill="none" stroke="#7a7a7a" stroke-width="0.8"/>
<rect x="375.1" y="298.6" width="38.8" height="7.6" fill="#1a5cf5" stroke="#505060" stroke-width="0.8"/>
<rect x="398.3" y="332.4" width="3.6" height="10.2" fill="#fff"/>
<path d="M399 332.1 Q400.1 333.5 401.2 332.1 M399 342.9 Q400.1 341.5 401.2 342.9" fill="none" stroke="#7a7a7a" stroke-width="0.8"/>
<rect x="375.1" y="333.7" width="38.8" height="7.6" fill="#1a5cf5" stroke="#505060" stroke-width="0.8"/>
<rect x="398.3" y="367.5" width="3.6" height="10.2" fill="#fff"/>
<path d="M399 367.2 Q400.1 368.6 401.2 367.2 M399 378 Q400.1 376.6 401.2 378" fill="none" stroke="#7a7a7a" stroke-width="0.8"/>
<rect x="375.1" y="368.8" width="38.8" height="7.6" fill="#1a5cf5" stroke="#505060" stroke-width="0.8"/>
<rect x="398.3" y="402.6" width="3.6" height="10.2" fill="#fff"/>
<path d="M399 402.3 Q400.1 403.7 401.2 402.3 M399 413.1 Q400.1 411.7 401.2 413.1" fill="none" stroke="#7a7a7a" stroke-width="0.8"/>
<rect x="375.1" y="403.9" width="38.8" height="7.6" fill="#30a8f0" stroke="#505060" stroke-width="0.8"/>
<rect x="398.3" y="437.7" width="3.6" height="10.2" fill="#fff"/>
<path d="M399 437.4 Q400.1 438.8 401.2 437.4 M399 448.2 Q400.1 446.8 401.2 448.2" fill="none" stroke="#7a7a7a" stroke-width="0.8"/>
<rect x="375.1" y="439" width="38.8" height="7.6" fill="#30c8f0" stroke="#505060" stroke-width="0.8"/>
<defs><linearGradient id="cb544" x1="0" y1="0" x2="0" y2="1"><stop offset="0" stop-color="#f01c08"/><stop offset="0.1" stop-color="#f8640a"/><stop offset="0.2" stop-color="#f8d400"/><stop offset="0.28" stop-color="#f8f800"/><stop offset="0.38" stop-color="#a0f000"/><stop offset="0.48" stop-color="#10e010"/><stop offset="0.58" stop-color="#10f0a0"/><stop offset="0.68" stop-color="#10f8f8"/><stop offset="0.78" stop-color="#10b0f8"/><stop offset="0.88" stop-color="#1050f0"/><stop offset="1" stop-color="#0a0ad0"/></linearGradient></defs>
<rect x="544.2" y="182.8" width="13.3" height="67.9" fill="url(#cb544)"/>
<text x="561.5" y="185.4" font-size="4.8" fill="#000" stroke="#000" stroke-width="0.1">300.008 K</text>
<text x="561.5" y="253.2" font-size="4.8" fill="#000" stroke="#000" stroke-width="0.1">83.9893 K</text>
<line x1="557.5" y1="182.8" x2="559.5" y2="182.8" stroke="#666" stroke-width="0.5"/>
<line x1="557.5" y1="250.7" x2="559.5" y2="250.7" stroke="#666" stroke-width="0.5"/>
<text x="374.9" y="481.6" font-size="4.65" fill="#000" stroke="#000" stroke-width="0.1" xml:space="preserve">Min = 83.9893 K  Max = 300.008 K</text>
<text x="374.9" y="490.7" font-size="4.65" fill="#000" stroke="#000" stroke-width="0.1">Iteration = 346</text>
<defs><path id="e3a" d="M7.90 0.00 L7.86 2.09 L7.73 3.79 L7.51 5.34 L7.22 6.77 L6.84 8.09 L6.38 9.28 L5.84 10.36 L5.24 11.30 L4.56 12.11 L3.82 12.79 L3.01 13.31 L2.14 13.69 L1.18 13.92 L0.00 14.00 L-1.18 13.92 L-2.14 13.69 L-3.01 13.31 L-3.82 12.79 L-4.56 12.11 L-5.24 11.30 L-5.84 10.36 L-6.38 9.28 L-6.84 8.09 L-7.22 6.77 L-7.51 5.34 L-7.73 3.79 L-7.86 2.09 L-7.90 0.00 L-7.86 -2.09 L-7.73 -3.79 L-7.51 -5.34 L-7.22 -6.77 L-6.84 -8.09 L-6.38 -9.28 L-5.84 -10.36 L-5.24 -11.30 L-4.56 -12.11 L-3.82 -12.79 L-3.01 -13.31 L-2.14 -13.69 L-1.18 -13.92 L-0.00 -14.00 L1.18 -13.92 L2.14 -13.69 L3.01 -13.31 L3.82 -12.79 L4.56 -12.11 L5.24 -11.30 L5.84 -10.36 L6.38 -9.28 L6.84 -8.09 L7.22 -6.77 L7.51 -5.34 L7.73 -3.79 L7.86 -2.09 Z"/><path id="e3b" d="M7.10 0.00 L7.06 1.97 L6.94 3.57 L6.75 5.04 L6.48 6.39 L6.14 7.63 L5.73 8.75 L5.25 9.77 L4.71 10.66 L4.10 11.42 L3.44 12.06 L2.71 12.55 L1.92 12.91 L1.06 13.13 L0.00 13.20 L-1.06 13.13 L-1.92 12.91 L-2.71 12.55 L-3.44 12.06 L-4.10 11.42 L-4.71 10.66 L-5.25 9.77 L-5.73 8.75 L-6.14 7.63 L-6.48 6.39 L-6.75 5.04 L-6.94 3.57 L-7.06 1.97 L-7.10 0.00 L-7.06 -1.97 L-6.94 -3.57 L-6.75 -5.04 L-6.48 -6.39 L-6.14 -7.63 L-5.73 -8.75 L-5.25 -9.77 L-4.71 -10.66 L-4.10 -11.42 L-3.44 -12.06 L-2.71 -12.55 L-1.92 -12.91 L-1.06 -13.13 L-0.00 -13.20 L1.06 -13.13 L1.92 -12.91 L2.71 -12.55 L3.44 -12.06 L4.10 -11.42 L4.71 -10.66 L5.25 -9.77 L5.73 -8.75 L6.14 -7.63 L6.48 -6.39 L6.75 -5.04 L6.94 -3.57 L7.06 -1.97 Z"/><path id="e3c" d="M4.00 0.00 L3.98 1.42 L3.91 2.57 L3.80 3.63 L3.65 4.60 L3.46 5.49 L3.23 6.30 L2.96 7.03 L2.65 7.67 L2.31 8.22 L1.94 8.68 L1.53 9.03 L1.08 9.29 L0.60 9.45 L0.00 9.50 L-0.60 9.45 L-1.08 9.29 L-1.53 9.03 L-1.94 8.68 L-2.31 8.22 L-2.65 7.67 L-2.96 7.03 L-3.23 6.30 L-3.46 5.49 L-3.65 4.60 L-3.80 3.63 L-3.91 2.57 L-3.98 1.42 L-4.00 0.00 L-3.98 -1.42 L-3.91 -2.57 L-3.80 -3.63 L-3.65 -4.60 L-3.46 -5.49 L-3.23 -6.30 L-2.96 -7.03 L-2.65 -7.67 L-2.31 -8.22 L-1.94 -8.68 L-1.53 -9.03 L-1.08 -9.29 L-0.60 -9.45 L-0.00 -9.50 L0.60 -9.45 L1.08 -9.29 L1.53 -9.03 L1.94 -8.68 L2.31 -8.22 L2.65 -7.67 L2.96 -7.03 L3.23 -6.30 L3.46 -5.49 L3.65 -4.60 L3.80 -3.63 L3.91 -2.57 L3.98 -1.42 Z"/><path id="e3d" d="M3.20 0.00 L3.18 1.30 L3.13 2.36 L3.04 3.32 L2.92 4.21 L2.77 5.03 L2.58 5.77 L2.37 6.44 L2.12 7.02 L1.85 7.53 L1.55 7.95 L1.22 8.27 L0.87 8.51 L0.48 8.65 L0.00 8.70 L-0.48 8.65 L-0.87 8.51 L-1.22 8.27 L-1.55 7.95 L-1.85 7.53 L-2.12 7.02 L-2.37 6.44 L-2.58 5.77 L-2.77 5.03 L-2.92 4.21 L-3.04 3.32 L-3.13 2.36 L-3.18 1.30 L-3.20 0.00 L-3.18 -1.30 L-3.13 -2.36 L-3.04 -3.32 L-2.92 -4.21 L-2.77 -5.03 L-2.58 -5.77 L-2.37 -6.44 L-2.12 -7.02 L-1.85 -7.53 L-1.55 -7.95 L-1.22 -8.27 L-0.87 -8.51 L-0.48 -8.65 L-0.00 -8.70 L0.48 -8.65 L0.87 -8.51 L1.22 -8.27 L1.55 -7.95 L1.85 -7.53 L2.12 -7.02 L2.37 -6.44 L2.58 -5.77 L2.77 -5.03 L2.92 -4.21 L3.04 -3.32 L3.13 -2.36 L3.18 -1.30 Z"/></defs>
<rect x="646.5" y="171.5" width="223.5" height="328" fill="#000"/>
<rect x="648" y="173" width="220.5" height="325" fill="#fff" stroke="#a0a0a0" stroke-width="0.8"/>
<text x="700.2" y="177" font-size="4.75" fill="#000" stroke="#000" stroke-width="0.12">Temperature (Fluid) [K]</text>
<rect x="676.5" y="182.8" width="112.4" height="292" fill="#fff" stroke="#7a7a7a" stroke-width="1"/>
<rect x="678.2" y="186.3" width="12.5" height="285.7" fill="#fff" stroke="#7a7a7a" stroke-width="1"/>
<rect x="774.4" y="186.3" width="11.2" height="285.7" fill="#fff" stroke="#7a7a7a" stroke-width="1"/>
<rect x="690.7" y="186.9" width="22.1" height="33.4" fill="#0a18f0"/>
<rect x="712.8" y="186.9" width="19.4" height="33.4" fill="#0a18f0"/>
<rect x="732.2" y="186.9" width="24.2" height="33.4" fill="#0a18f0"/>
<rect x="756.4" y="186.9" width="18" height="33.4" fill="#0a18f0"/>
<line x1="712.8" y1="186.9" x2="712.8" y2="220.3" stroke="#9aa4d0" stroke-width="0.8"/>
<line x1="732.2" y1="186.9" x2="732.2" y2="220.3" stroke="#9aa4d0" stroke-width="0.8"/>
<line x1="756.4" y1="186.9" x2="756.4" y2="220.3" stroke="#9aa4d0" stroke-width="0.8"/>
<use href="#e3a" x="700.5" y="203.7" fill="#202a48"/>
<use href="#e3b" x="700.5" y="203.7" fill="#1a50f0"/>
<use href="#e3c" x="700.5" y="203.7" fill="#202a48"/>
<use href="#e3d" x="700.5" y="203.7" fill="#0a18f0"/>
<use href="#e3a" x="721.7" y="203.7" fill="#202a48"/>
<use href="#e3b" x="721.7" y="203.7" fill="#1a50f0"/>
<use href="#e3c" x="721.7" y="203.7" fill="#202a48"/>
<use href="#e3d" x="721.7" y="203.7" fill="#0a18f0"/>
<use href="#e3a" x="743.1" y="203.7" fill="#202a48"/>
<use href="#e3b" x="743.1" y="203.7" fill="#1a50f0"/>
<use href="#e3c" x="743.1" y="203.7" fill="#202a48"/>
<use href="#e3d" x="743.1" y="203.7" fill="#0a18f0"/>
<use href="#e3a" x="764.3" y="203.7" fill="#202a48"/>
<use href="#e3b" x="764.3" y="203.7" fill="#1a50f0"/>
<use href="#e3c" x="764.3" y="203.7" fill="#202a48"/>
<use href="#e3d" x="764.3" y="203.7" fill="#0a18f0"/>
<path d="M774.4 208.6 q2.2 3 0 6" fill="none" stroke="#999" stroke-width="0.6"/>
<rect x="690.7" y="222.67" width="22.1" height="33.4" fill="#0a18f0"/>
<rect x="712.8" y="222.67" width="19.4" height="33.4" fill="#0a18f0"/>
<rect x="732.2" y="222.67" width="24.2" height="33.4" fill="#0a18f0"/>
<rect x="756.4" y="222.67" width="18" height="33.4" fill="#0a18f0"/>
<line x1="712.8" y1="222.67" x2="712.8" y2="256.07" stroke="#9aa4d0" stroke-width="0.8"/>
<line x1="732.2" y1="222.67" x2="732.2" y2="256.07" stroke="#9aa4d0" stroke-width="0.8"/>
<line x1="756.4" y1="222.67" x2="756.4" y2="256.07" stroke="#9aa4d0" stroke-width="0.8"/>
<use href="#e3a" x="700.5" y="239.47" fill="#202a48"/>
<use href="#e3b" x="700.5" y="239.47" fill="#1a50f0"/>
<use href="#e3c" x="700.5" y="239.47" fill="#202a48"/>
<use href="#e3d" x="700.5" y="239.47" fill="#0a18f0"/>
<use href="#e3a" x="721.7" y="239.47" fill="#202a48"/>
<use href="#e3b" x="721.7" y="239.47" fill="#1a50f0"/>
<use href="#e3c" x="721.7" y="239.47" fill="#202a48"/>
<use href="#e3d" x="721.7" y="239.47" fill="#0a18f0"/>
<use href="#e3a" x="743.1" y="239.47" fill="#202a48"/>
<use href="#e3b" x="743.1" y="239.47" fill="#1a50f0"/>
<use href="#e3c" x="743.1" y="239.47" fill="#202a48"/>
<use href="#e3d" x="743.1" y="239.47" fill="#0a18f0"/>
<use href="#e3a" x="764.3" y="239.47" fill="#202a48"/>
<use href="#e3b" x="764.3" y="239.47" fill="#1a50f0"/>
<use href="#e3c" x="764.3" y="239.47" fill="#202a48"/>
<use href="#e3d" x="764.3" y="239.47" fill="#0a18f0"/>
<path d="M774.4 244.37 q2.2 3 0 6" fill="none" stroke="#999" stroke-width="0.6"/>
<rect x="690.7" y="258.44" width="22.1" height="33.4" fill="#0a18f0"/>
<rect x="712.8" y="258.44" width="19.4" height="33.4" fill="#0a18f0"/>
<rect x="732.2" y="258.44" width="24.2" height="33.4" fill="#0a18f0"/>
<rect x="756.4" y="258.44" width="18" height="33.4" fill="#0a18f0"/>
<line x1="712.8" y1="258.44" x2="712.8" y2="291.84" stroke="#9aa4d0" stroke-width="0.8"/>
<line x1="732.2" y1="258.44" x2="732.2" y2="291.84" stroke="#9aa4d0" stroke-width="0.8"/>
<line x1="756.4" y1="258.44" x2="756.4" y2="291.84" stroke="#9aa4d0" stroke-width="0.8"/>
<use href="#e3a" x="700.5" y="275.24" fill="#202a48"/>
<use href="#e3b" x="700.5" y="275.24" fill="#1a50f0"/>
<use href="#e3c" x="700.5" y="275.24" fill="#202a48"/>
<use href="#e3d" x="700.5" y="275.24" fill="#0a18f0"/>
<use href="#e3a" x="721.7" y="275.24" fill="#202a48"/>
<use href="#e3b" x="721.7" y="275.24" fill="#1a50f0"/>
<use href="#e3c" x="721.7" y="275.24" fill="#202a48"/>
<use href="#e3d" x="721.7" y="275.24" fill="#0a18f0"/>
<use href="#e3a" x="743.1" y="275.24" fill="#202a48"/>
<use href="#e3b" x="743.1" y="275.24" fill="#1a50f0"/>
<use href="#e3c" x="743.1" y="275.24" fill="#202a48"/>
<use href="#e3d" x="743.1" y="275.24" fill="#0a18f0"/>
<use href="#e3a" x="764.3" y="275.24" fill="#202a48"/>
<use href="#e3b" x="764.3" y="275.24" fill="#1a50f0"/>
<use href="#e3c" x="764.3" y="275.24" fill="#202a48"/>
<use href="#e3d" x="764.3" y="275.24" fill="#0a18f0"/>
<path d="M774.4 280.14 q2.2 3 0 6" fill="none" stroke="#999" stroke-width="0.6"/>
<rect x="690.7" y="294.21" width="22.1" height="33.4" fill="#0a1ef0"/>
<rect x="712.8" y="294.21" width="19.4" height="33.4" fill="#0a1ef0"/>
<rect x="732.2" y="294.21" width="24.2" height="33.4" fill="#0a1ef0"/>
<rect x="756.4" y="294.21" width="18" height="33.4" fill="#0a1ef0"/>
<line x1="712.8" y1="294.21" x2="712.8" y2="327.61" stroke="#9aa4d0" stroke-width="0.8"/>
<line x1="732.2" y1="294.21" x2="732.2" y2="327.61" stroke="#9aa4d0" stroke-width="0.8"/>
<line x1="756.4" y1="294.21" x2="756.4" y2="327.61" stroke="#9aa4d0" stroke-width="0.8"/>
<use href="#e3a" x="700.5" y="311.01" fill="#202a48"/>
<use href="#e3b" x="700.5" y="311.01" fill="#1a60f0"/>
<use href="#e3c" x="700.5" y="311.01" fill="#202a48"/>
<use href="#e3d" x="700.5" y="311.01" fill="#0a20f0"/>
<use href="#e3a" x="721.7" y="311.01" fill="#202a48"/>
<use href="#e3b" x="721.7" y="311.01" fill="#2070f0"/>
<use href="#e3c" x="721.7" y="311.01" fill="#202a48"/>
<use href="#e3d" x="721.7" y="311.01" fill="#0a20f0"/>
<use href="#e3a" x="743.1" y="311.01" fill="#202a48"/>
<use href="#e3b" x="743.1" y="311.01" fill="#2070f0"/>
<use href="#e3c" x="743.1" y="311.01" fill="#202a48"/>
<use href="#e3d" x="743.1" y="311.01" fill="#0a20f0"/>
<use href="#e3a" x="764.3" y="311.01" fill="#202a48"/>
<use href="#e3b" x="764.3" y="311.01" fill="#2088f0"/>
<use href="#e3c" x="764.3" y="311.01" fill="#202a48"/>
<use href="#e3d" x="764.3" y="311.01" fill="#0a20f0"/>
<path d="M774.4 315.91 q2.2 3 0 6" fill="none" stroke="#999" stroke-width="0.6"/>
<rect x="690.7" y="329.98" width="22.1" height="33.4" fill="#1848f0"/>
<rect x="712.8" y="329.98" width="19.4" height="33.4" fill="#1030e8"/>
<rect x="732.2" y="329.98" width="24.2" height="33.4" fill="#1a40f0"/>
<rect x="756.4" y="329.98" width="18" height="33.4" fill="#0a18e0"/>
<line x1="712.8" y1="329.98" x2="712.8" y2="363.38" stroke="#9aa4d0" stroke-width="0.8"/>
<line x1="732.2" y1="329.98" x2="732.2" y2="363.38" stroke="#9aa4d0" stroke-width="0.8"/>
<line x1="756.4" y1="329.98" x2="756.4" y2="363.38" stroke="#9aa4d0" stroke-width="0.8"/>
<use href="#e3a" x="700.5" y="346.78" fill="#202a48"/>
<use href="#e3b" x="700.5" y="346.78" fill="#30b8f0"/>
<use href="#e3c" x="700.5" y="346.78" fill="#202a48"/>
<use href="#e3d" x="700.5" y="346.78" fill="#0f28e8"/>
<use href="#e3a" x="721.7" y="346.78" fill="#202a48"/>
<use href="#e3b" x="721.7" y="346.78" fill="#30b0f0"/>
<use href="#e3c" x="721.7" y="346.78" fill="#202a48"/>
<use href="#e3d" x="721.7" y="346.78" fill="#1a40e8"/>
<use href="#e3a" x="743.1" y="346.78" fill="#202a48"/>
<use href="#e3b" x="743.1" y="346.78" fill="#30b0f0"/>
<use href="#e3c" x="743.1" y="346.78" fill="#202a48"/>
<use href="#e3d" x="743.1" y="346.78" fill="#1a50f0"/>
<use href="#e3a" x="764.3" y="346.78" fill="#202a48"/>
<use href="#e3b" x="764.3" y="346.78" fill="#30a8f0"/>
<use href="#e3c" x="764.3" y="346.78" fill="#202a48"/>
<use href="#e3d" x="764.3" y="346.78" fill="#1a60f0"/>
<path d="M774.4 351.68 q2.2 3 0 6" fill="none" stroke="#999" stroke-width="0.6"/>
<rect x="690.7" y="365.75" width="22.1" height="33.4" fill="#1a5af0"/>
<rect x="712.8" y="365.75" width="19.4" height="33.4" fill="#1a40e8"/>
<rect x="732.2" y="365.75" width="24.2" height="33.4" fill="#1a50f0"/>
<rect x="756.4" y="365.75" width="18" height="33.4" fill="#0a18e0"/>
<line x1="712.8" y1="365.75" x2="712.8" y2="399.15" stroke="#9aa4d0" stroke-width="0.8"/>
<line x1="732.2" y1="365.75" x2="732.2" y2="399.15" stroke="#9aa4d0" stroke-width="0.8"/>
<line x1="756.4" y1="365.75" x2="756.4" y2="399.15" stroke="#9aa4d0" stroke-width="0.8"/>
<use href="#e3a" x="700.5" y="382.55" fill="#202a48"/>
<use href="#e3b" x="700.5" y="382.55" fill="#20d8f0"/>
<use href="#e3c" x="700.5" y="382.55" fill="#202a48"/>
<use href="#e3d" x="700.5" y="382.55" fill="#0f28e8"/>
<use href="#e3a" x="721.7" y="382.55" fill="#202a48"/>
<use href="#e3b" x="721.7" y="382.55" fill="#20d8f0"/>
<use href="#e3c" x="721.7" y="382.55" fill="#202a48"/>
<use href="#e3d" x="721.7" y="382.55" fill="#1a48e8"/>
<use href="#e3a" x="743.1" y="382.55" fill="#202a48"/>
<use href="#e3b" x="743.1" y="382.55" fill="#20d8f0"/>
<use href="#e3c" x="743.1" y="382.55" fill="#202a48"/>
<use href="#e3d" x="743.1" y="382.55" fill="#1a58f0"/>
<use href="#e3a" x="764.3" y="382.55" fill="#202a48"/>
<use href="#e3b" x="764.3" y="382.55" fill="#30e8d0"/>
<use href="#e3c" x="764.3" y="382.55" fill="#202a48"/>
<use href="#e3d" x="764.3" y="382.55" fill="#1a70f0"/>
<path d="M774.4 387.45 q2.2 3 0 6" fill="none" stroke="#999" stroke-width="0.6"/>
<defs><linearGradient id="ge360" x1="0" y1="0" x2="1" y2="0.3"><stop offset="0" stop-color="#38acf4"/><stop offset="1" stop-color="#1e88ec"/></linearGradient></defs>
<rect x="690.7" y="401.52" width="22.1" height="33.4" fill="url(#ge360)"/>
<defs><linearGradient id="ge361" x1="0" y1="0" x2="0" y2="1"><stop offset="0" stop-color="#1a70e8"/><stop offset="1" stop-color="#1c84ee"/></linearGradient></defs>
<rect x="712.8" y="401.52" width="19.4" height="33.4" fill="url(#ge361)"/>
<defs><linearGradient id="ge362" x1="0" y1="0" x2="1" y2="1"><stop offset="0" stop-color="#1a60e8"/><stop offset="1" stop-color="#2088f0"/></linearGradient></defs>
<rect x="732.2" y="401.52" width="24.2" height="33.4" fill="url(#ge362)"/>
<rect x="756.4" y="401.52" width="18" height="33.4" fill="#0a20d0"/>
<line x1="712.8" y1="401.52" x2="712.8" y2="434.92" stroke="#9aa4d0" stroke-width="0.8"/>
<line x1="732.2" y1="401.52" x2="732.2" y2="434.92" stroke="#9aa4d0" stroke-width="0.8"/>
<line x1="756.4" y1="401.52" x2="756.4" y2="434.92" stroke="#9aa4d0" stroke-width="0.8"/>
<use href="#e3a" x="700.5" y="418.32" fill="#202a48"/>
<use href="#e3b" x="700.5" y="418.32" fill="#38e020"/>
<use href="#e3c" x="700.5" y="418.32" fill="#202a48"/>
<use href="#e3d" x="700.5" y="418.32" fill="#1a40e0"/>
<use href="#e3a" x="721.7" y="418.32" fill="#202a48"/>
<use href="#e3b" x="721.7" y="418.32" fill="#20e020"/>
<use href="#e3c" x="721.7" y="418.32" fill="#202a48"/>
<use href="#e3d" x="721.7" y="418.32" fill="#1a70f0"/>
<use href="#e3a" x="743.1" y="418.32" fill="#202a48"/>
<use href="#e3b" x="743.1" y="418.32" fill="#30e070"/>
<use href="#e3c" x="743.1" y="418.32" fill="#202a48"/>
<use href="#e3d" x="743.1" y="418.32" fill="#20a8f0"/>
<use href="#e3a" x="764.3" y="418.32" fill="#202a48"/>
<use href="#e3b" x="764.3" y="418.32" fill="#20e8a0"/>
<use href="#e3c" x="764.3" y="418.32" fill="#202a48"/>
<use href="#e3d" x="764.3" y="418.32" fill="#20e0f0"/>
<path d="M774.4 423.22 q2.2 3 0 6" fill="none" stroke="#999" stroke-width="0.6"/>
<rect x="690.7" y="437.29" width="22.1" height="33.4" fill="#2cd4f8"/>
<defs><linearGradient id="ge371" x1="0" y1="0" x2="0" y2="1"><stop offset="0" stop-color="#1a88f0"/><stop offset="1" stop-color="#22a8f4"/></linearGradient></defs>
<rect x="712.8" y="437.29" width="19.4" height="33.4" fill="url(#ge371)"/>
<defs><linearGradient id="ge372" x1="0.3" y1="0" x2="1" y2="1"><stop offset="0" stop-color="#1a50e8"/><stop offset="1" stop-color="#40d8f8"/></linearGradient></defs>
<rect x="732.2" y="437.29" width="24.2" height="33.4" fill="url(#ge372)"/>
<rect x="756.4" y="437.29" width="18" height="33.4" fill="#0818d4"/>
<line x1="712.8" y1="437.29" x2="712.8" y2="470.69" stroke="#9aa4d0" stroke-width="0.8"/>
<line x1="732.2" y1="437.29" x2="732.2" y2="470.69" stroke="#9aa4d0" stroke-width="0.8"/>
<line x1="756.4" y1="437.29" x2="756.4" y2="470.69" stroke="#9aa4d0" stroke-width="0.8"/>
<use href="#e3a" x="700.5" y="454.09" fill="#202a48"/>
<use href="#e3b" x="700.5" y="454.09" fill="#b8f028"/>
<use href="#e3c" x="700.5" y="454.09" fill="#202a48"/>
<use href="#e3d" x="700.5" y="454.09" fill="#1a40e8"/>
<use href="#e3a" x="721.7" y="454.09" fill="#202a48"/>
<use href="#e3b" x="721.7" y="454.09" fill="#f8f000"/>
<use href="#e3c" x="721.7" y="454.09" fill="#202a48"/>
<use href="#e3d" x="721.7" y="454.09" fill="#1a90f0"/>
<use href="#e3a" x="743.1" y="454.09" fill="#202a48"/>
<use href="#e3b" x="743.1" y="454.09" fill="#f8b010"/>
<use href="#e3c" x="743.1" y="454.09" fill="#202a48"/>
<use href="#e3d" x="743.1" y="454.09" fill="#20e8f8"/>
<use href="#e3a" x="764.3" y="454.09" fill="#202a48"/>
<use href="#e3b" x="764.3" y="454.09" fill="#f86010"/>
<use href="#e3c" x="764.3" y="454.09" fill="#202a48"/>
<use href="#e3d" x="764.3" y="454.09" fill="#20e0a8"/>
<path d="M774.4 458.99 q2.2 3 0 6" fill="none" stroke="#999" stroke-width="0.6"/>
<rect x="675.8" y="191.7" width="3.1" height="10" fill="#fff"/>
<path d="M676.5 191.4 Q677.35 192.8 678.2 191.4 M676.5 202 Q677.35 200.6 678.2 202" fill="none" stroke="#7a7a7a" stroke-width="0.8"/>
<rect x="652.2" y="193" width="38.5" height="7.4" fill="#0a30f0" stroke="#505060" stroke-width="0.8"/>
<rect x="675.8" y="227.47" width="3.1" height="10" fill="#fff"/>
<path d="M676.5 227.17 Q677.35 228.57 678.2 227.17 M676.5 237.77 Q677.35 236.37 678.2 237.77" fill="none" stroke="#7a7a7a" stroke-width="0.8"/>
<rect x="652.2" y="228.77" width="38.5" height="7.4" fill="#0a30f0" stroke="#505060" stroke-width="0.8"/>
<rect x="675.8" y="263.24" width="3.1" height="10" fill="#fff"/>
<path d="M676.5 262.94 Q677.35 264.34 678.2 262.94 M676.5 273.54 Q677.35 272.14 678.2 273.54" fill="none" stroke="#7a7a7a" stroke-width="0.8"/>
<rect x="652.2" y="264.54" width="38.5" height="7.4" fill="#0a30f0" stroke="#505060" stroke-width="0.8"/>
<rect x="675.8" y="299.01" width="3.1" height="10" fill="#fff"/>
<path d="M676.5 298.71 Q677.35 300.11 678.2 298.71 M676.5 309.31 Q677.35 307.91 678.2 309.31" fill="none" stroke="#7a7a7a" stroke-width="0.8"/>
<rect x="652.2" y="300.31" width="38.5" height="7.4" fill="#0a30f0" stroke="#505060" stroke-width="0.8"/>
<rect x="675.8" y="334.78" width="3.1" height="10" fill="#fff"/>
<path d="M676.5 334.48 Q677.35 335.88 678.2 334.48 M676.5 345.08 Q677.35 343.68 678.2 345.08" fill="none" stroke="#7a7a7a" stroke-width="0.8"/>
<rect x="652.2" y="336.08" width="38.5" height="7.4" fill="#1040f0" stroke="#505060" stroke-width="0.8"/>
<rect x="675.8" y="370.55" width="3.1" height="10" fill="#fff"/>
<path d="M676.5 370.25 Q677.35 371.65 678.2 370.25 M676.5 380.85 Q677.35 379.45 678.2 380.85" fill="none" stroke="#7a7a7a" stroke-width="0.8"/>
<rect x="652.2" y="371.85" width="38.5" height="7.4" fill="#1a60f0" stroke="#505060" stroke-width="0.8"/>
<rect x="675.8" y="406.32" width="3.1" height="10" fill="#fff"/>
<path d="M676.5 406.02 Q677.35 407.42 678.2 406.02 M676.5 416.62 Q677.35 415.22 678.2 416.62" fill="none" stroke="#7a7a7a" stroke-width="0.8"/>
<rect x="652.2" y="407.62" width="38.5" height="7.4" fill="#30a8f0" stroke="#505060" stroke-width="0.8"/>
<rect x="675.8" y="442.09" width="3.1" height="10" fill="#fff"/>
<path d="M676.5 441.79 Q677.35 443.19 678.2 441.79 M676.5 452.39 Q677.35 450.99 678.2 452.39" fill="none" stroke="#7a7a7a" stroke-width="0.8"/>
<rect x="652.2" y="443.39" width="38.5" height="7.4" fill="#30c8f0" stroke="#505060" stroke-width="0.8"/>
<defs><linearGradient id="cb824" x1="0" y1="0" x2="0" y2="1"><stop offset="0" stop-color="#f01c08"/><stop offset="0.1" stop-color="#f8640a"/><stop offset="0.2" stop-color="#f8d400"/><stop offset="0.28" stop-color="#f8f800"/><stop offset="0.38" stop-color="#a0f000"/><stop offset="0.48" stop-color="#10e010"/><stop offset="0.58" stop-color="#10f0a0"/><stop offset="0.68" stop-color="#10f8f8"/><stop offset="0.78" stop-color="#10b0f8"/><stop offset="0.88" stop-color="#1050f0"/><stop offset="1" stop-color="#0a0ad0"/></linearGradient></defs>
<rect x="824.2" y="182" width="13.3" height="69.2" fill="url(#cb824)"/>
<text x="841.5" y="184.6" font-size="4.8" fill="#000" stroke="#000" stroke-width="0.1">300.008 K</text>
<text x="841.5" y="253.7" font-size="4.8" fill="#000" stroke="#000" stroke-width="0.1">83.9999 K</text>
<line x1="837.5" y1="182" x2="839.5" y2="182" stroke="#666" stroke-width="0.5"/>
<line x1="837.5" y1="251.2" x2="839.5" y2="251.2" stroke="#666" stroke-width="0.5"/>
<text x="651.9" y="486.4" font-size="4.65" fill="#000" stroke="#000" stroke-width="0.1" xml:space="preserve">Min = 83.9999 K  Max = 300.008 K</text>
<text x="651.9" y="495" font-size="4.65" fill="#000" stroke="#000" stroke-width="0.1">Iteration = 673</text>
</svg>
<div class="t" style="left:138.0px;top:510.9px;font-size:12.95px;">20 Iterations</div>
<div class="t" style="left:441.5px;top:509.8px;font-size:12.95px;">350 Iterations</div>
<div class="t" style="left:726.8px;top:505.1px;font-size:12.95px;">700 Iterations</div>
<div class="t" style="left:897px;top:506px;font-size:8.3px;color:#d8d8d8;">Page | 07</div>
</body></html>
